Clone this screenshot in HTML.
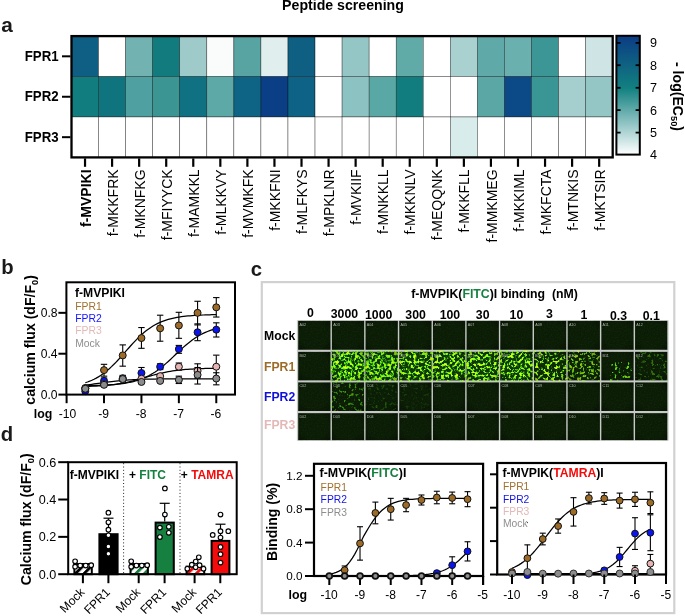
<!DOCTYPE html>
<html lang="en"><head><meta charset="utf-8"><title>Peptide screening</title>
<style>html,body{margin:0;padding:0;background:#fff}svg{display:block}</style></head><body>
<svg width="685" height="616" viewBox="0 0 685 616" font-family='"Liberation Sans", Arial, Helvetica, sans-serif'>
<rect x="0.00" y="0.00" width="685.00" height="616.00" fill="#fff"/>
<g id="panel-a">
<text x="343.00" y="9.90" font-size="14.15" font-weight="bold" text-anchor="middle" fill="#000">Peptide screening</text>
<text x="1.20" y="32.30" font-size="20.8" font-weight="bold" text-anchor="start" fill="#1a1a1a">a</text>
<rect x="71.50" y="36.10" width="27.06" height="40.43" fill="#0f5f85" stroke="#000" stroke-width="0.55" stroke-opacity="0.62"/>
<rect x="98.56" y="36.10" width="27.06" height="40.43" fill="#ffffff" stroke="#000" stroke-width="0.55" stroke-opacity="0.62"/>
<rect x="125.62" y="36.10" width="27.06" height="40.43" fill="#72b3b1" stroke="#000" stroke-width="0.55" stroke-opacity="0.62"/>
<rect x="152.68" y="36.10" width="27.06" height="40.43" fill="#117b7d" stroke="#000" stroke-width="0.55" stroke-opacity="0.62"/>
<rect x="179.74" y="36.10" width="27.06" height="40.43" fill="#9ecbca" stroke="#000" stroke-width="0.55" stroke-opacity="0.62"/>
<rect x="206.80" y="36.10" width="27.06" height="40.43" fill="#fafcfb" stroke="#000" stroke-width="0.55" stroke-opacity="0.62"/>
<rect x="233.86" y="36.10" width="27.06" height="40.43" fill="#57a4a3" stroke="#000" stroke-width="0.55" stroke-opacity="0.62"/>
<rect x="260.92" y="36.10" width="27.06" height="40.43" fill="#e0eeee" stroke="#000" stroke-width="0.55" stroke-opacity="0.62"/>
<rect x="287.98" y="36.10" width="27.06" height="40.43" fill="#0f5f82" stroke="#000" stroke-width="0.55" stroke-opacity="0.62"/>
<rect x="315.04" y="36.10" width="27.06" height="40.43" fill="#ffffff" stroke="#000" stroke-width="0.55" stroke-opacity="0.62"/>
<rect x="342.10" y="36.10" width="27.06" height="40.43" fill="#93c6c5" stroke="#000" stroke-width="0.55" stroke-opacity="0.62"/>
<rect x="369.16" y="36.10" width="27.06" height="40.43" fill="#ffffff" stroke="#000" stroke-width="0.55" stroke-opacity="0.62"/>
<rect x="396.22" y="36.10" width="27.06" height="40.43" fill="#60aaa8" stroke="#000" stroke-width="0.55" stroke-opacity="0.62"/>
<rect x="423.28" y="36.10" width="27.06" height="40.43" fill="#ffffff" stroke="#000" stroke-width="0.55" stroke-opacity="0.62"/>
<rect x="450.34" y="36.10" width="27.06" height="40.43" fill="#a8d1d0" stroke="#000" stroke-width="0.55" stroke-opacity="0.62"/>
<rect x="477.40" y="36.10" width="27.06" height="40.43" fill="#5faaa9" stroke="#000" stroke-width="0.55" stroke-opacity="0.62"/>
<rect x="504.46" y="36.10" width="27.06" height="40.43" fill="#6ab0af" stroke="#000" stroke-width="0.55" stroke-opacity="0.62"/>
<rect x="531.52" y="36.10" width="27.06" height="40.43" fill="#3b9695" stroke="#000" stroke-width="0.55" stroke-opacity="0.62"/>
<rect x="558.58" y="36.10" width="27.06" height="40.43" fill="#ffffff" stroke="#000" stroke-width="0.55" stroke-opacity="0.62"/>
<rect x="585.64" y="36.10" width="27.06" height="40.43" fill="#cfe5e5" stroke="#000" stroke-width="0.55" stroke-opacity="0.62"/>
<rect x="71.50" y="76.53" width="27.06" height="40.43" fill="#127d7e" stroke="#000" stroke-width="0.55" stroke-opacity="0.62"/>
<rect x="98.56" y="76.53" width="27.06" height="40.43" fill="#10747f" stroke="#000" stroke-width="0.55" stroke-opacity="0.62"/>
<rect x="125.62" y="76.53" width="27.06" height="40.43" fill="#4ea1a0" stroke="#000" stroke-width="0.55" stroke-opacity="0.62"/>
<rect x="152.68" y="76.53" width="27.06" height="40.43" fill="#3a9593" stroke="#000" stroke-width="0.55" stroke-opacity="0.62"/>
<rect x="179.74" y="76.53" width="27.06" height="40.43" fill="#0f7182" stroke="#000" stroke-width="0.55" stroke-opacity="0.62"/>
<rect x="206.80" y="76.53" width="27.06" height="40.43" fill="#5ca9a7" stroke="#000" stroke-width="0.55" stroke-opacity="0.62"/>
<rect x="233.86" y="76.53" width="27.06" height="40.43" fill="#0e6485" stroke="#000" stroke-width="0.55" stroke-opacity="0.62"/>
<rect x="260.92" y="76.53" width="27.06" height="40.43" fill="#0a3f85" stroke="#000" stroke-width="0.55" stroke-opacity="0.62"/>
<rect x="287.98" y="76.53" width="27.06" height="40.43" fill="#0e6286" stroke="#000" stroke-width="0.55" stroke-opacity="0.62"/>
<rect x="315.04" y="76.53" width="27.06" height="40.43" fill="#ffffff" stroke="#000" stroke-width="0.55" stroke-opacity="0.62"/>
<rect x="342.10" y="76.53" width="27.06" height="40.43" fill="#8cc3c2" stroke="#000" stroke-width="0.55" stroke-opacity="0.62"/>
<rect x="369.16" y="76.53" width="27.06" height="40.43" fill="#5aa8a6" stroke="#000" stroke-width="0.55" stroke-opacity="0.62"/>
<rect x="396.22" y="76.53" width="27.06" height="40.43" fill="#127d7e" stroke="#000" stroke-width="0.55" stroke-opacity="0.62"/>
<rect x="423.28" y="76.53" width="27.06" height="40.43" fill="#ffffff" stroke="#000" stroke-width="0.55" stroke-opacity="0.62"/>
<rect x="450.34" y="76.53" width="27.06" height="40.43" fill="#ffffff" stroke="#000" stroke-width="0.55" stroke-opacity="0.62"/>
<rect x="477.40" y="76.53" width="27.06" height="40.43" fill="#5aa7a6" stroke="#000" stroke-width="0.55" stroke-opacity="0.62"/>
<rect x="504.46" y="76.53" width="27.06" height="40.43" fill="#0b4a86" stroke="#000" stroke-width="0.55" stroke-opacity="0.62"/>
<rect x="531.52" y="76.53" width="27.06" height="40.43" fill="#3a9694" stroke="#000" stroke-width="0.55" stroke-opacity="0.62"/>
<rect x="558.58" y="76.53" width="27.06" height="40.43" fill="#a5cfce" stroke="#000" stroke-width="0.55" stroke-opacity="0.62"/>
<rect x="585.64" y="76.53" width="27.06" height="40.43" fill="#93c6c5" stroke="#000" stroke-width="0.55" stroke-opacity="0.62"/>
<rect x="71.50" y="116.97" width="27.06" height="40.43" fill="#ffffff" stroke="#000" stroke-width="0.55" stroke-opacity="0.62"/>
<rect x="98.56" y="116.97" width="27.06" height="40.43" fill="#ffffff" stroke="#000" stroke-width="0.55" stroke-opacity="0.62"/>
<rect x="125.62" y="116.97" width="27.06" height="40.43" fill="#ffffff" stroke="#000" stroke-width="0.55" stroke-opacity="0.62"/>
<rect x="152.68" y="116.97" width="27.06" height="40.43" fill="#ffffff" stroke="#000" stroke-width="0.55" stroke-opacity="0.62"/>
<rect x="179.74" y="116.97" width="27.06" height="40.43" fill="#ffffff" stroke="#000" stroke-width="0.55" stroke-opacity="0.62"/>
<rect x="206.80" y="116.97" width="27.06" height="40.43" fill="#ffffff" stroke="#000" stroke-width="0.55" stroke-opacity="0.62"/>
<rect x="233.86" y="116.97" width="27.06" height="40.43" fill="#ffffff" stroke="#000" stroke-width="0.55" stroke-opacity="0.62"/>
<rect x="260.92" y="116.97" width="27.06" height="40.43" fill="#ffffff" stroke="#000" stroke-width="0.55" stroke-opacity="0.62"/>
<rect x="287.98" y="116.97" width="27.06" height="40.43" fill="#ffffff" stroke="#000" stroke-width="0.55" stroke-opacity="0.62"/>
<rect x="315.04" y="116.97" width="27.06" height="40.43" fill="#ffffff" stroke="#000" stroke-width="0.55" stroke-opacity="0.62"/>
<rect x="342.10" y="116.97" width="27.06" height="40.43" fill="#ffffff" stroke="#000" stroke-width="0.55" stroke-opacity="0.62"/>
<rect x="369.16" y="116.97" width="27.06" height="40.43" fill="#ffffff" stroke="#000" stroke-width="0.55" stroke-opacity="0.62"/>
<rect x="396.22" y="116.97" width="27.06" height="40.43" fill="#ffffff" stroke="#000" stroke-width="0.55" stroke-opacity="0.62"/>
<rect x="423.28" y="116.97" width="27.06" height="40.43" fill="#ffffff" stroke="#000" stroke-width="0.55" stroke-opacity="0.62"/>
<rect x="450.34" y="116.97" width="27.06" height="40.43" fill="#d9ecec" stroke="#000" stroke-width="0.55" stroke-opacity="0.62"/>
<rect x="477.40" y="116.97" width="27.06" height="40.43" fill="#ffffff" stroke="#000" stroke-width="0.55" stroke-opacity="0.62"/>
<rect x="504.46" y="116.97" width="27.06" height="40.43" fill="#ffffff" stroke="#000" stroke-width="0.55" stroke-opacity="0.62"/>
<rect x="531.52" y="116.97" width="27.06" height="40.43" fill="#ffffff" stroke="#000" stroke-width="0.55" stroke-opacity="0.62"/>
<rect x="558.58" y="116.97" width="27.06" height="40.43" fill="#ffffff" stroke="#000" stroke-width="0.55" stroke-opacity="0.62"/>
<rect x="585.64" y="116.97" width="27.06" height="40.43" fill="#ffffff" stroke="#000" stroke-width="0.55" stroke-opacity="0.62"/>
<rect x="71.50" y="36.10" width="541.20" height="121.30" fill="none" stroke="#000" stroke-width="2.3"/>
<line x1="62.00" y1="56.32" x2="70.50" y2="56.32" stroke="#000" stroke-width="2"/>
<text x="58.60" y="60.92" font-size="14" font-weight="bold" text-anchor="end" fill="#000" textLength="33.9" lengthAdjust="spacingAndGlyphs">FPR1</text>
<line x1="62.00" y1="96.75" x2="70.50" y2="96.75" stroke="#000" stroke-width="2"/>
<text x="58.60" y="101.35" font-size="14" font-weight="bold" text-anchor="end" fill="#000" textLength="33.9" lengthAdjust="spacingAndGlyphs">FPR2</text>
<line x1="62.00" y1="137.18" x2="70.50" y2="137.18" stroke="#000" stroke-width="2"/>
<text x="58.60" y="141.78" font-size="14" font-weight="bold" text-anchor="end" fill="#000" textLength="33.9" lengthAdjust="spacingAndGlyphs">FPR3</text>
<line x1="85.03" y1="158.40" x2="85.03" y2="166.80" stroke="#000" stroke-width="2.2"/>
<text transform="translate(90.63,169.40) rotate(-90)" font-size="14.0" font-weight="bold" text-anchor="end" fill="#000">f-MVPIKI</text>
<line x1="112.09" y1="158.40" x2="112.09" y2="166.80" stroke="#000" stroke-width="2.2"/>
<text transform="translate(117.69,169.40) rotate(-90)" font-size="14.0" text-anchor="end" fill="#000">f-MKKFRK</text>
<line x1="139.15" y1="158.40" x2="139.15" y2="166.80" stroke="#000" stroke-width="2.2"/>
<text transform="translate(144.75,169.40) rotate(-90)" font-size="14.0" text-anchor="end" fill="#000">f-MKNFKG</text>
<line x1="166.21" y1="158.40" x2="166.21" y2="166.80" stroke="#000" stroke-width="2.2"/>
<text transform="translate(171.81,169.40) rotate(-90)" font-size="14.0" text-anchor="end" fill="#000">f-MFIYYCK</text>
<line x1="193.27" y1="158.40" x2="193.27" y2="166.80" stroke="#000" stroke-width="2.2"/>
<text transform="translate(198.87,169.40) rotate(-90)" font-size="14.0" text-anchor="end" fill="#000">f-MAMKKL</text>
<line x1="220.33" y1="158.40" x2="220.33" y2="166.80" stroke="#000" stroke-width="2.2"/>
<text transform="translate(225.93,169.40) rotate(-90)" font-size="14.0" text-anchor="end" fill="#000">f-MLKKVY</text>
<line x1="247.39" y1="158.40" x2="247.39" y2="166.80" stroke="#000" stroke-width="2.2"/>
<text transform="translate(252.99,169.40) rotate(-90)" font-size="14.0" text-anchor="end" fill="#000">f-MVMKFK</text>
<line x1="274.45" y1="158.40" x2="274.45" y2="166.80" stroke="#000" stroke-width="2.2"/>
<text transform="translate(280.05,169.40) rotate(-90)" font-size="14.0" text-anchor="end" fill="#000">f-MKKFNI</text>
<line x1="301.51" y1="158.40" x2="301.51" y2="166.80" stroke="#000" stroke-width="2.2"/>
<text transform="translate(307.11,169.40) rotate(-90)" font-size="14.0" text-anchor="end" fill="#000">f-MLFKYS</text>
<line x1="328.57" y1="158.40" x2="328.57" y2="166.80" stroke="#000" stroke-width="2.2"/>
<text transform="translate(334.17,169.40) rotate(-90)" font-size="14.0" text-anchor="end" fill="#000">f-MPKLNR</text>
<line x1="355.63" y1="158.40" x2="355.63" y2="166.80" stroke="#000" stroke-width="2.2"/>
<text transform="translate(361.23,169.40) rotate(-90)" font-size="14.0" text-anchor="end" fill="#000">f-MVKIIF</text>
<line x1="382.69" y1="158.40" x2="382.69" y2="166.80" stroke="#000" stroke-width="2.2"/>
<text transform="translate(388.29,169.40) rotate(-90)" font-size="14.0" text-anchor="end" fill="#000">f-MNKKLL</text>
<line x1="409.75" y1="158.40" x2="409.75" y2="166.80" stroke="#000" stroke-width="2.2"/>
<text transform="translate(415.35,169.40) rotate(-90)" font-size="14.0" text-anchor="end" fill="#000">f-MKKNLV</text>
<line x1="436.81" y1="158.40" x2="436.81" y2="166.80" stroke="#000" stroke-width="2.2"/>
<text transform="translate(442.41,169.40) rotate(-90)" font-size="14.0" text-anchor="end" fill="#000">f-MEQQNK</text>
<line x1="463.87" y1="158.40" x2="463.87" y2="166.80" stroke="#000" stroke-width="2.2"/>
<text transform="translate(469.47,169.40) rotate(-90)" font-size="14.0" text-anchor="end" fill="#000">f-MKKFLL</text>
<line x1="490.93" y1="158.40" x2="490.93" y2="166.80" stroke="#000" stroke-width="2.2"/>
<text transform="translate(496.53,169.40) rotate(-90)" font-size="14.0" text-anchor="end" fill="#000">f-MMKMEG</text>
<line x1="517.99" y1="158.40" x2="517.99" y2="166.80" stroke="#000" stroke-width="2.2"/>
<text transform="translate(523.59,169.40) rotate(-90)" font-size="14.0" text-anchor="end" fill="#000">f-MKKIML</text>
<line x1="545.05" y1="158.40" x2="545.05" y2="166.80" stroke="#000" stroke-width="2.2"/>
<text transform="translate(550.65,169.40) rotate(-90)" font-size="14.0" text-anchor="end" fill="#000">f-MKFCTA</text>
<line x1="572.11" y1="158.40" x2="572.11" y2="166.80" stroke="#000" stroke-width="2.2"/>
<text transform="translate(577.71,169.40) rotate(-90)" font-size="14.0" text-anchor="end" fill="#000">f-MTNKIS</text>
<line x1="599.17" y1="158.40" x2="599.17" y2="166.80" stroke="#000" stroke-width="2.2"/>
<text transform="translate(604.77,169.40) rotate(-90)" font-size="14.0" text-anchor="end" fill="#000">f-MKTSIR</text>
<defs><linearGradient id="cbar" x1="0" y1="0" x2="0" y2="1"><stop offset="0" stop-color="#0b3c84"/><stop offset="0.44" stop-color="#128080"/><stop offset="1" stop-color="#ffffff"/></linearGradient></defs>
<rect x="616.40" y="35.80" width="23.40" height="118.80" fill="url(#cbar)" stroke="#000" stroke-width="2"/>
<line x1="617.00" y1="42.90" x2="620.60" y2="42.90" stroke="#000" stroke-width="1.8"/>
<line x1="635.60" y1="42.90" x2="639.00" y2="42.90" stroke="#000" stroke-width="1.8"/>
<text x="650.00" y="47.40" font-size="12.6" text-anchor="start" fill="#000">9</text>
<line x1="617.00" y1="65.20" x2="620.60" y2="65.20" stroke="#000" stroke-width="1.8"/>
<line x1="635.60" y1="65.20" x2="639.00" y2="65.20" stroke="#000" stroke-width="1.8"/>
<text x="650.00" y="69.70" font-size="12.6" text-anchor="start" fill="#000">8</text>
<line x1="617.00" y1="87.80" x2="620.60" y2="87.80" stroke="#000" stroke-width="1.8"/>
<line x1="635.60" y1="87.80" x2="639.00" y2="87.80" stroke="#000" stroke-width="1.8"/>
<text x="650.00" y="92.30" font-size="12.6" text-anchor="start" fill="#000">7</text>
<line x1="617.00" y1="110.10" x2="620.60" y2="110.10" stroke="#000" stroke-width="1.8"/>
<line x1="635.60" y1="110.10" x2="639.00" y2="110.10" stroke="#000" stroke-width="1.8"/>
<text x="650.00" y="114.60" font-size="12.6" text-anchor="start" fill="#000">6</text>
<line x1="617.00" y1="132.60" x2="620.60" y2="132.60" stroke="#000" stroke-width="1.8"/>
<line x1="635.60" y1="132.60" x2="639.00" y2="132.60" stroke="#000" stroke-width="1.8"/>
<text x="650.00" y="137.10" font-size="12.6" text-anchor="start" fill="#000">5</text>
<text x="650.00" y="159.40" font-size="12.6" text-anchor="start" fill="#000">4</text>
<text transform="translate(673.40,62.00) rotate(90)" font-size="14.1" font-weight="bold" text-anchor="start" fill="#000">- log(EC<tspan font-size="9.3" dy="2.8">50</tspan><tspan dy="-2.8">)</tspan></text>
</g>
<g id="panel-c">
<text x="250.80" y="276.00" font-size="20.3" font-weight="bold" text-anchor="start" fill="#1a1a1a">c</text>
<rect x="261.80" y="282.10" width="412.50" height="331.00" fill="#fff" stroke="#d1d1d1" stroke-width="2.2"/>
<text x="411.20" y="298.20" font-size="12.3" font-weight="bold" text-anchor="start" fill="#000" xml:space="preserve">f-MVPIK(<tspan fill="#15803f">FITC</tspan>)I binding&#160;&#160;(nM)</text>
<defs>
<filter id="sp1" x="0" y="0" width="1" height="1" color-interpolation-filters="sRGB"><feTurbulence type="fractalNoise" baseFrequency="0.36" numOctaves="2" seed="3"/><feColorMatrix type="matrix" values="2.5 0 0 0 -1.04  2.6 0 0 0 -0.58  0 0 0 0 0.07  7 0 0 0 -2.92"/><feGaussianBlur stdDeviation="0.3"/></filter>
<filter id="sp2" x="0" y="0" width="1" height="1" color-interpolation-filters="sRGB"><feTurbulence type="fractalNoise" baseFrequency="0.36" numOctaves="2" seed="11"/><feColorMatrix type="matrix" values="2.5 0 0 0 -1.04  2.6 0 0 0 -0.58  0 0 0 0 0.07  7 0 0 0 -3.2"/><feGaussianBlur stdDeviation="0.3"/></filter>
<filter id="sp3" x="0" y="0" width="1" height="1" color-interpolation-filters="sRGB"><feTurbulence type="fractalNoise" baseFrequency="0.36" numOctaves="2" seed="23"/><feColorMatrix type="matrix" values="2.5 0 0 0 -1.04  2.6 0 0 0 -0.58  0 0 0 0 0.07  7 0 0 0 -3.5"/><feGaussianBlur stdDeviation="0.3"/></filter>
<filter id="sp4" x="0" y="0" width="1" height="1" color-interpolation-filters="sRGB"><feTurbulence type="fractalNoise" baseFrequency="0.33" numOctaves="2" seed="5"/><feColorMatrix type="matrix" values="2.0 0 0 0 -0.95  2.6 0 0 0 -0.66  0 0 0 0 0.07  7 0 0 0 -3.95"/><feGaussianBlur stdDeviation="0.3"/></filter>
<filter id="sp5" x="0" y="0" width="1" height="1" color-interpolation-filters="sRGB"><feTurbulence type="fractalNoise" baseFrequency="0.33" numOctaves="2" seed="8"/><feColorMatrix type="matrix" values="1.5 0 0 0 -0.7  2.6 0 0 0 -0.66  0 0 0 0 0.07  5 0 0 0 -2.85"/><feGaussianBlur stdDeviation="0.3"/></filter>
<filter id="bg" x="0" y="0" width="1" height="1" color-interpolation-filters="sRGB"><feTurbulence type="fractalNoise" baseFrequency="0.7" numOctaves="1" seed="2"/><feColorMatrix type="matrix" values="0 0 0 0 0.2  0 0 0 0 0.5  0 0 0 0 0.1  1.2 0 0 0 -0.45"/></filter>
<radialGradient id="vig" cx="0.5" cy="0.5" r="0.75"><stop offset="0.55" stop-color="#000" stop-opacity="0"/><stop offset="1" stop-color="#000" stop-opacity="0.45"/></radialGradient>
</defs>
<rect x="296.90" y="320.30" width="371.70" height="120.40" fill="#c6c9c6"/>
<rect x="298.25" y="320.90" width="32.18" height="28.80" fill="#0b1b06"/>
<rect x="298.25" y="320.90" width="32.18" height="28.80" fill="#2a5a14" filter="url(#bg)" opacity="0.22"/>
<rect x="298.25" y="320.90" width="32.18" height="28.80" fill="url(#vig)"/>
<text x="299.45" y="325.50" font-size="3.7" text-anchor="start" fill="#d5dcd2" opacity="0.8">A02</text>
<rect x="331.93" y="320.90" width="32.18" height="28.80" fill="#0b1b06"/>
<rect x="331.93" y="320.90" width="32.18" height="28.80" fill="#2a5a14" filter="url(#bg)" opacity="0.22"/>
<rect x="331.93" y="320.90" width="32.18" height="28.80" fill="url(#vig)"/>
<text x="333.13" y="325.50" font-size="3.7" text-anchor="start" fill="#d5dcd2" opacity="0.8">A03</text>
<rect x="365.61" y="320.90" width="32.18" height="28.80" fill="#0b1b06"/>
<rect x="365.61" y="320.90" width="32.18" height="28.80" fill="#2a5a14" filter="url(#bg)" opacity="0.22"/>
<rect x="365.61" y="320.90" width="32.18" height="28.80" fill="url(#vig)"/>
<text x="366.81" y="325.50" font-size="3.7" text-anchor="start" fill="#d5dcd2" opacity="0.8">A04</text>
<rect x="399.30" y="320.90" width="32.18" height="28.80" fill="#0b1b06"/>
<rect x="399.30" y="320.90" width="32.18" height="28.80" fill="#2a5a14" filter="url(#bg)" opacity="0.22"/>
<rect x="399.30" y="320.90" width="32.18" height="28.80" fill="url(#vig)"/>
<text x="400.50" y="325.50" font-size="3.7" text-anchor="start" fill="#d5dcd2" opacity="0.8">A05</text>
<rect x="432.98" y="320.90" width="32.18" height="28.80" fill="#0b1b06"/>
<rect x="432.98" y="320.90" width="32.18" height="28.80" fill="#2a5a14" filter="url(#bg)" opacity="0.22"/>
<rect x="432.98" y="320.90" width="32.18" height="28.80" fill="url(#vig)"/>
<text x="434.18" y="325.50" font-size="3.7" text-anchor="start" fill="#d5dcd2" opacity="0.8">A06</text>
<rect x="466.66" y="320.90" width="32.18" height="28.80" fill="#0b1b06"/>
<rect x="466.66" y="320.90" width="32.18" height="28.80" fill="#2a5a14" filter="url(#bg)" opacity="0.22"/>
<rect x="466.66" y="320.90" width="32.18" height="28.80" fill="url(#vig)"/>
<text x="467.86" y="325.50" font-size="3.7" text-anchor="start" fill="#d5dcd2" opacity="0.8">A07</text>
<rect x="500.34" y="320.90" width="32.18" height="28.80" fill="#0b1b06"/>
<rect x="500.34" y="320.90" width="32.18" height="28.80" fill="#2a5a14" filter="url(#bg)" opacity="0.22"/>
<rect x="500.34" y="320.90" width="32.18" height="28.80" fill="url(#vig)"/>
<text x="501.54" y="325.50" font-size="3.7" text-anchor="start" fill="#d5dcd2" opacity="0.8">A08</text>
<rect x="534.02" y="320.90" width="32.18" height="28.80" fill="#0b1b06"/>
<rect x="534.02" y="320.90" width="32.18" height="28.80" fill="#2a5a14" filter="url(#bg)" opacity="0.22"/>
<rect x="534.02" y="320.90" width="32.18" height="28.80" fill="url(#vig)"/>
<text x="535.22" y="325.50" font-size="3.7" text-anchor="start" fill="#d5dcd2" opacity="0.8">A09</text>
<rect x="567.70" y="320.90" width="32.18" height="28.80" fill="#0b1b06"/>
<rect x="567.70" y="320.90" width="32.18" height="28.80" fill="#2a5a14" filter="url(#bg)" opacity="0.22"/>
<rect x="567.70" y="320.90" width="32.18" height="28.80" fill="url(#vig)"/>
<text x="568.90" y="325.50" font-size="3.7" text-anchor="start" fill="#d5dcd2" opacity="0.8">A10</text>
<rect x="601.39" y="320.90" width="32.18" height="28.80" fill="#0b1b06"/>
<rect x="601.39" y="320.90" width="32.18" height="28.80" fill="#2a5a14" filter="url(#bg)" opacity="0.22"/>
<rect x="601.39" y="320.90" width="32.18" height="28.80" fill="url(#vig)"/>
<text x="602.59" y="325.50" font-size="3.7" text-anchor="start" fill="#d5dcd2" opacity="0.8">A11</text>
<rect x="635.07" y="320.90" width="32.18" height="28.80" fill="#0b1b06"/>
<rect x="635.07" y="320.90" width="32.18" height="28.80" fill="#2a5a14" filter="url(#bg)" opacity="0.22"/>
<rect x="635.07" y="320.90" width="32.18" height="28.80" fill="url(#vig)"/>
<text x="636.27" y="325.50" font-size="3.7" text-anchor="start" fill="#d5dcd2" opacity="0.8">A12</text>
<rect x="298.25" y="351.90" width="32.18" height="28.40" fill="#0b1b06"/>
<rect x="298.25" y="351.90" width="32.18" height="28.40" fill="#2a5a14" filter="url(#bg)" opacity="0.22"/>
<rect x="298.25" y="351.90" width="32.18" height="28.40" fill="url(#vig)"/>
<text x="299.45" y="356.50" font-size="3.7" text-anchor="start" fill="#d5dcd2" opacity="0.8">B02</text>
<rect x="331.93" y="351.90" width="32.18" height="28.40" fill="#0b1b06"/>
<rect x="331.93" y="351.90" width="32.18" height="28.40" fill="#2a5a14" filter="url(#bg)" opacity="0.22"/>
<rect x="331.93" y="351.90" width="32.18" height="28.40" fill="#1d6a0a" opacity="0.32"/>
<rect x="331.93" y="351.90" width="32.18" height="28.40" fill="#3c0" filter="url(#sp1)" opacity="1.0"/>
<rect x="331.93" y="351.90" width="32.18" height="28.40" fill="url(#vig)"/>
<text x="333.13" y="356.50" font-size="3.7" text-anchor="start" fill="#d5dcd2" opacity="0.8">B03</text>
<rect x="365.61" y="351.90" width="32.18" height="28.40" fill="#0b1b06"/>
<rect x="365.61" y="351.90" width="32.18" height="28.40" fill="#2a5a14" filter="url(#bg)" opacity="0.22"/>
<rect x="365.61" y="351.90" width="32.18" height="28.40" fill="#1d6a0a" opacity="0.30"/>
<rect x="365.61" y="351.90" width="32.18" height="28.40" fill="#3c0" filter="url(#sp1)" opacity="0.95"/>
<rect x="365.61" y="351.90" width="32.18" height="28.40" fill="url(#vig)"/>
<text x="366.81" y="356.50" font-size="3.7" text-anchor="start" fill="#d5dcd2" opacity="0.8">B04</text>
<rect x="399.30" y="351.90" width="32.18" height="28.40" fill="#0b1b06"/>
<rect x="399.30" y="351.90" width="32.18" height="28.40" fill="#2a5a14" filter="url(#bg)" opacity="0.22"/>
<rect x="399.30" y="351.90" width="32.18" height="28.40" fill="#1d6a0a" opacity="0.32"/>
<rect x="399.30" y="351.90" width="32.18" height="28.40" fill="#3c0" filter="url(#sp2)" opacity="1.0"/>
<rect x="399.30" y="351.90" width="32.18" height="28.40" fill="url(#vig)"/>
<text x="400.50" y="356.50" font-size="3.7" text-anchor="start" fill="#d5dcd2" opacity="0.8">B05</text>
<rect x="432.98" y="351.90" width="32.18" height="28.40" fill="#0b1b06"/>
<rect x="432.98" y="351.90" width="32.18" height="28.40" fill="#2a5a14" filter="url(#bg)" opacity="0.22"/>
<rect x="432.98" y="351.90" width="32.18" height="28.40" fill="#1d6a0a" opacity="0.32"/>
<rect x="432.98" y="351.90" width="32.18" height="28.40" fill="#3c0" filter="url(#sp2)" opacity="1.0"/>
<rect x="432.98" y="351.90" width="32.18" height="28.40" fill="url(#vig)"/>
<text x="434.18" y="356.50" font-size="3.7" text-anchor="start" fill="#d5dcd2" opacity="0.8">B06</text>
<rect x="466.66" y="351.90" width="32.18" height="28.40" fill="#0b1b06"/>
<rect x="466.66" y="351.90" width="32.18" height="28.40" fill="#2a5a14" filter="url(#bg)" opacity="0.22"/>
<rect x="466.66" y="351.90" width="32.18" height="28.40" fill="#1d6a0a" opacity="0.32"/>
<rect x="466.66" y="351.90" width="32.18" height="28.40" fill="#3c0" filter="url(#sp2)" opacity="1.0"/>
<rect x="466.66" y="351.90" width="32.18" height="28.40" fill="url(#vig)"/>
<text x="467.86" y="356.50" font-size="3.7" text-anchor="start" fill="#d5dcd2" opacity="0.8">B07</text>
<rect x="500.34" y="351.90" width="32.18" height="28.40" fill="#0b1b06"/>
<rect x="500.34" y="351.90" width="32.18" height="28.40" fill="#2a5a14" filter="url(#bg)" opacity="0.22"/>
<rect x="500.34" y="351.90" width="32.18" height="28.40" fill="#1d6a0a" opacity="0.32"/>
<rect x="500.34" y="351.90" width="32.18" height="28.40" fill="#3c0" filter="url(#sp2)" opacity="1.0"/>
<rect x="500.34" y="351.90" width="32.18" height="28.40" fill="url(#vig)"/>
<text x="501.54" y="356.50" font-size="3.7" text-anchor="start" fill="#d5dcd2" opacity="0.8">B08</text>
<rect x="534.02" y="351.90" width="32.18" height="28.40" fill="#0b1b06"/>
<rect x="534.02" y="351.90" width="32.18" height="28.40" fill="#2a5a14" filter="url(#bg)" opacity="0.22"/>
<rect x="534.02" y="351.90" width="32.18" height="28.40" fill="#1d6a0a" opacity="0.15"/>
<rect x="534.02" y="351.90" width="32.18" height="28.40" fill="#3c0" filter="url(#sp3)" opacity="0.95"/>
<rect x="534.02" y="351.90" width="32.18" height="28.40" fill="url(#vig)"/>
<text x="535.22" y="356.50" font-size="3.7" text-anchor="start" fill="#d5dcd2" opacity="0.8">B09</text>
<rect x="567.70" y="351.90" width="32.18" height="28.40" fill="#0b1b06"/>
<rect x="567.70" y="351.90" width="32.18" height="28.40" fill="#2a5a14" filter="url(#bg)" opacity="0.22"/>
<rect x="567.70" y="351.90" width="32.18" height="28.40" fill="#1d6a0a" opacity="0.06"/>
<rect x="567.70" y="351.90" width="32.18" height="28.40" fill="#3c0" filter="url(#sp3)" opacity="0.7"/>
<rect x="567.70" y="351.90" width="32.18" height="28.40" fill="url(#vig)"/>
<text x="568.90" y="356.50" font-size="3.7" text-anchor="start" fill="#d5dcd2" opacity="0.8">B10</text>
<rect x="601.39" y="351.90" width="32.18" height="28.40" fill="#0b1b06"/>
<rect x="601.39" y="351.90" width="32.18" height="28.40" fill="#2a5a14" filter="url(#bg)" opacity="0.22"/>
<rect x="610.39" y="362.90" width="21.18" height="17.40" fill="#3c0" filter="url(#sp4)" opacity="0.8"/>
<rect x="601.39" y="351.90" width="32.18" height="28.40" fill="url(#vig)"/>
<text x="602.59" y="356.50" font-size="3.7" text-anchor="start" fill="#d5dcd2" opacity="0.8">B11</text>
<rect x="635.07" y="351.90" width="32.18" height="28.40" fill="#0b1b06"/>
<rect x="635.07" y="351.90" width="32.18" height="28.40" fill="#2a5a14" filter="url(#bg)" opacity="0.22"/>
<rect x="635.07" y="351.90" width="32.18" height="28.40" fill="#3c0" filter="url(#sp4)" opacity="0.35"/>
<rect x="635.07" y="351.90" width="32.18" height="28.40" fill="url(#vig)"/>
<text x="636.27" y="356.50" font-size="3.7" text-anchor="start" fill="#d5dcd2" opacity="0.8">B12</text>
<rect x="298.25" y="382.50" width="32.18" height="28.50" fill="#0b1b06"/>
<rect x="298.25" y="382.50" width="32.18" height="28.50" fill="#2a5a14" filter="url(#bg)" opacity="0.22"/>
<rect x="298.25" y="382.50" width="32.18" height="28.50" fill="url(#vig)"/>
<text x="299.45" y="387.10" font-size="3.7" text-anchor="start" fill="#d5dcd2" opacity="0.8">C02</text>
<rect x="331.93" y="382.50" width="32.18" height="28.50" fill="#0b1b06"/>
<rect x="331.93" y="382.50" width="32.18" height="28.50" fill="#2a5a14" filter="url(#bg)" opacity="0.22"/>
<rect x="331.93" y="382.50" width="32.18" height="28.50" fill="#3c0" filter="url(#sp4)" opacity="0.5"/>
<rect x="331.93" y="382.50" width="32.18" height="28.50" fill="url(#vig)"/>
<text x="333.13" y="387.10" font-size="3.7" text-anchor="start" fill="#d5dcd2" opacity="0.8">C03</text>
<rect x="365.61" y="382.50" width="32.18" height="28.50" fill="#0b1b06"/>
<rect x="365.61" y="382.50" width="32.18" height="28.50" fill="#2a5a14" filter="url(#bg)" opacity="0.22"/>
<rect x="365.61" y="382.50" width="32.18" height="28.50" fill="#3c0" filter="url(#sp5)" opacity="0.25"/>
<rect x="365.61" y="382.50" width="32.18" height="28.50" fill="url(#vig)"/>
<text x="366.81" y="387.10" font-size="3.7" text-anchor="start" fill="#d5dcd2" opacity="0.8">C04</text>
<rect x="399.30" y="382.50" width="32.18" height="28.50" fill="#0b1b06"/>
<rect x="399.30" y="382.50" width="32.18" height="28.50" fill="#2a5a14" filter="url(#bg)" opacity="0.22"/>
<rect x="399.30" y="382.50" width="32.18" height="28.50" fill="#3c0" filter="url(#sp5)" opacity="0.12"/>
<rect x="399.30" y="382.50" width="32.18" height="28.50" fill="url(#vig)"/>
<text x="400.50" y="387.10" font-size="3.7" text-anchor="start" fill="#d5dcd2" opacity="0.8">C05</text>
<rect x="432.98" y="382.50" width="32.18" height="28.50" fill="#0b1b06"/>
<rect x="432.98" y="382.50" width="32.18" height="28.50" fill="#2a5a14" filter="url(#bg)" opacity="0.22"/>
<rect x="432.98" y="382.50" width="32.18" height="28.50" fill="url(#vig)"/>
<text x="434.18" y="387.10" font-size="3.7" text-anchor="start" fill="#d5dcd2" opacity="0.8">C06</text>
<rect x="466.66" y="382.50" width="32.18" height="28.50" fill="#0b1b06"/>
<rect x="466.66" y="382.50" width="32.18" height="28.50" fill="#2a5a14" filter="url(#bg)" opacity="0.22"/>
<rect x="466.66" y="382.50" width="32.18" height="28.50" fill="url(#vig)"/>
<text x="467.86" y="387.10" font-size="3.7" text-anchor="start" fill="#d5dcd2" opacity="0.8">C07</text>
<rect x="500.34" y="382.50" width="32.18" height="28.50" fill="#0b1b06"/>
<rect x="500.34" y="382.50" width="32.18" height="28.50" fill="#2a5a14" filter="url(#bg)" opacity="0.22"/>
<rect x="500.34" y="382.50" width="32.18" height="28.50" fill="url(#vig)"/>
<text x="501.54" y="387.10" font-size="3.7" text-anchor="start" fill="#d5dcd2" opacity="0.8">C08</text>
<rect x="534.02" y="382.50" width="32.18" height="28.50" fill="#0b1b06"/>
<rect x="534.02" y="382.50" width="32.18" height="28.50" fill="#2a5a14" filter="url(#bg)" opacity="0.22"/>
<rect x="534.02" y="382.50" width="32.18" height="28.50" fill="url(#vig)"/>
<text x="535.22" y="387.10" font-size="3.7" text-anchor="start" fill="#d5dcd2" opacity="0.8">C09</text>
<rect x="567.70" y="382.50" width="32.18" height="28.50" fill="#0b1b06"/>
<rect x="567.70" y="382.50" width="32.18" height="28.50" fill="#2a5a14" filter="url(#bg)" opacity="0.22"/>
<rect x="567.70" y="382.50" width="32.18" height="28.50" fill="url(#vig)"/>
<text x="568.90" y="387.10" font-size="3.7" text-anchor="start" fill="#d5dcd2" opacity="0.8">C10</text>
<rect x="601.39" y="382.50" width="32.18" height="28.50" fill="#0b1b06"/>
<rect x="601.39" y="382.50" width="32.18" height="28.50" fill="#2a5a14" filter="url(#bg)" opacity="0.22"/>
<rect x="601.39" y="382.50" width="32.18" height="28.50" fill="url(#vig)"/>
<text x="602.59" y="387.10" font-size="3.7" text-anchor="start" fill="#d5dcd2" opacity="0.8">C11</text>
<rect x="635.07" y="382.50" width="32.18" height="28.50" fill="#0b1b06"/>
<rect x="635.07" y="382.50" width="32.18" height="28.50" fill="#2a5a14" filter="url(#bg)" opacity="0.22"/>
<rect x="635.07" y="382.50" width="32.18" height="28.50" fill="url(#vig)"/>
<text x="636.27" y="387.10" font-size="3.7" text-anchor="start" fill="#d5dcd2" opacity="0.8">C12</text>
<rect x="298.25" y="413.20" width="32.18" height="26.90" fill="#0b1b06"/>
<rect x="298.25" y="413.20" width="32.18" height="26.90" fill="#2a5a14" filter="url(#bg)" opacity="0.22"/>
<rect x="298.25" y="413.20" width="32.18" height="26.90" fill="url(#vig)"/>
<text x="299.45" y="417.80" font-size="3.7" text-anchor="start" fill="#d5dcd2" opacity="0.8">D02</text>
<rect x="331.93" y="413.20" width="32.18" height="26.90" fill="#0b1b06"/>
<rect x="331.93" y="413.20" width="32.18" height="26.90" fill="#2a5a14" filter="url(#bg)" opacity="0.22"/>
<rect x="331.93" y="413.20" width="32.18" height="26.90" fill="url(#vig)"/>
<text x="333.13" y="417.80" font-size="3.7" text-anchor="start" fill="#d5dcd2" opacity="0.8">D03</text>
<rect x="365.61" y="413.20" width="32.18" height="26.90" fill="#0b1b06"/>
<rect x="365.61" y="413.20" width="32.18" height="26.90" fill="#2a5a14" filter="url(#bg)" opacity="0.22"/>
<rect x="365.61" y="413.20" width="32.18" height="26.90" fill="url(#vig)"/>
<text x="366.81" y="417.80" font-size="3.7" text-anchor="start" fill="#d5dcd2" opacity="0.8">D04</text>
<rect x="399.30" y="413.20" width="32.18" height="26.90" fill="#0b1b06"/>
<rect x="399.30" y="413.20" width="32.18" height="26.90" fill="#2a5a14" filter="url(#bg)" opacity="0.22"/>
<rect x="399.30" y="413.20" width="32.18" height="26.90" fill="url(#vig)"/>
<text x="400.50" y="417.80" font-size="3.7" text-anchor="start" fill="#d5dcd2" opacity="0.8">D05</text>
<rect x="432.98" y="413.20" width="32.18" height="26.90" fill="#0b1b06"/>
<rect x="432.98" y="413.20" width="32.18" height="26.90" fill="#2a5a14" filter="url(#bg)" opacity="0.22"/>
<rect x="432.98" y="413.20" width="32.18" height="26.90" fill="url(#vig)"/>
<text x="434.18" y="417.80" font-size="3.7" text-anchor="start" fill="#d5dcd2" opacity="0.8">D06</text>
<rect x="466.66" y="413.20" width="32.18" height="26.90" fill="#0b1b06"/>
<rect x="466.66" y="413.20" width="32.18" height="26.90" fill="#2a5a14" filter="url(#bg)" opacity="0.22"/>
<rect x="466.66" y="413.20" width="32.18" height="26.90" fill="url(#vig)"/>
<text x="467.86" y="417.80" font-size="3.7" text-anchor="start" fill="#d5dcd2" opacity="0.8">D07</text>
<rect x="500.34" y="413.20" width="32.18" height="26.90" fill="#0b1b06"/>
<rect x="500.34" y="413.20" width="32.18" height="26.90" fill="#2a5a14" filter="url(#bg)" opacity="0.22"/>
<rect x="500.34" y="413.20" width="32.18" height="26.90" fill="url(#vig)"/>
<text x="501.54" y="417.80" font-size="3.7" text-anchor="start" fill="#d5dcd2" opacity="0.8">D08</text>
<rect x="534.02" y="413.20" width="32.18" height="26.90" fill="#0b1b06"/>
<rect x="534.02" y="413.20" width="32.18" height="26.90" fill="#2a5a14" filter="url(#bg)" opacity="0.22"/>
<rect x="534.02" y="413.20" width="32.18" height="26.90" fill="url(#vig)"/>
<text x="535.22" y="417.80" font-size="3.7" text-anchor="start" fill="#d5dcd2" opacity="0.8">D09</text>
<rect x="567.70" y="413.20" width="32.18" height="26.90" fill="#0b1b06"/>
<rect x="567.70" y="413.20" width="32.18" height="26.90" fill="#2a5a14" filter="url(#bg)" opacity="0.22"/>
<rect x="567.70" y="413.20" width="32.18" height="26.90" fill="url(#vig)"/>
<text x="568.90" y="417.80" font-size="3.7" text-anchor="start" fill="#d5dcd2" opacity="0.8">D10</text>
<rect x="601.39" y="413.20" width="32.18" height="26.90" fill="#0b1b06"/>
<rect x="601.39" y="413.20" width="32.18" height="26.90" fill="#2a5a14" filter="url(#bg)" opacity="0.22"/>
<rect x="601.39" y="413.20" width="32.18" height="26.90" fill="url(#vig)"/>
<text x="602.59" y="417.80" font-size="3.7" text-anchor="start" fill="#d5dcd2" opacity="0.8">D11</text>
<rect x="635.07" y="413.20" width="32.18" height="26.90" fill="#0b1b06"/>
<rect x="635.07" y="413.20" width="32.18" height="26.90" fill="#2a5a14" filter="url(#bg)" opacity="0.22"/>
<rect x="635.07" y="413.20" width="32.18" height="26.90" fill="url(#vig)"/>
<text x="636.27" y="417.80" font-size="3.7" text-anchor="start" fill="#d5dcd2" opacity="0.8">D12</text>
<text x="310.30" y="316.60" font-size="12.3" font-weight="bold" text-anchor="middle" fill="#000">0</text>
<text x="344.40" y="318.30" font-size="12.3" font-weight="bold" text-anchor="middle" fill="#000">3000</text>
<text x="378.70" y="318.80" font-size="12.3" font-weight="bold" text-anchor="middle" fill="#000">1000</text>
<text x="415.60" y="318.60" font-size="12.3" font-weight="bold" text-anchor="middle" fill="#000">300</text>
<text x="449.90" y="318.80" font-size="12.3" font-weight="bold" text-anchor="middle" fill="#000">100</text>
<text x="482.70" y="318.90" font-size="12.3" font-weight="bold" text-anchor="middle" fill="#000">30</text>
<text x="516.40" y="318.90" font-size="12.3" font-weight="bold" text-anchor="middle" fill="#000">10</text>
<text x="549.50" y="317.60" font-size="12.3" font-weight="bold" text-anchor="middle" fill="#000">3</text>
<text x="583.80" y="318.90" font-size="12.3" font-weight="bold" text-anchor="middle" fill="#000">1</text>
<text x="618.50" y="319.50" font-size="12.3" font-weight="bold" text-anchor="middle" fill="#000">0.3</text>
<text x="651.30" y="319.70" font-size="12.3" font-weight="bold" text-anchor="middle" fill="#000">0.1</text>
<text x="295.20" y="340.20" font-size="12.2" font-weight="bold" text-anchor="end" fill="#000">Mock</text>
<text x="295.20" y="371.30" font-size="12.2" font-weight="bold" text-anchor="end" fill="#9c6b28">FPR1</text>
<text x="295.20" y="400.90" font-size="12.2" font-weight="bold" text-anchor="end" fill="#1010d8">FPR2</text>
<text x="295.20" y="429.10" font-size="12.2" font-weight="bold" text-anchor="end" fill="#e3b9b7">FPR3</text>
<polyline points="329.30,574.30 331.60,573.81 333.91,573.19 336.21,572.39 338.52,571.39 340.82,570.13 343.12,568.56 345.43,566.63 347.73,564.28 350.04,561.46 352.34,558.15 354.64,554.34 356.95,550.07 359.25,545.43 361.56,540.52 363.86,535.83 366.16,531.84 368.47,527.96 370.77,524.27 373.08,520.82 375.38,517.66 377.68,514.81 379.99,512.28 382.29,510.07 384.60,508.15 386.90,506.51 389.20,505.11 391.51,503.94 393.81,502.95 396.12,502.13 398.42,501.45 400.72,500.89 403.03,500.43 405.33,500.05 407.64,499.73 409.94,499.48 412.24,499.27 414.55,499.10 416.85,498.96 419.16,498.84 421.46,498.75 423.76,498.67 426.07,498.61 428.37,498.56 430.68,498.52 432.98,498.49 435.28,498.46 437.59,498.44 439.89,498.42 442.20,498.41 444.50,498.40 446.80,498.39 449.11,498.38 451.41,498.37 453.72,498.37 456.02,498.36 458.32,498.36 460.63,498.36 462.93,498.35 465.24,498.35 467.54,498.35" fill="none" stroke="#000" stroke-width="1.25"/>
<polyline points="390.74,575.92 392.02,575.91 393.30,575.90 394.58,575.89 395.86,575.88 397.14,575.86 398.42,575.85 399.70,575.83 400.98,575.81 402.26,575.79 403.54,575.77 404.82,575.74 406.10,575.71 407.38,575.68 408.66,575.65 409.94,575.61 411.22,575.56 412.50,575.52 413.78,575.46 415.06,575.40 416.34,575.34 417.62,575.27 418.90,575.19 420.18,575.10 421.46,575.00 422.74,574.89 424.02,574.77 425.30,574.64 426.58,574.49 427.86,574.33 429.14,574.15 430.42,573.95 431.70,573.73 432.98,573.49 434.26,573.22 435.54,572.93 436.82,572.61 438.10,572.26 439.38,571.88 440.66,571.46 441.94,571.01 443.22,570.51 444.50,569.97 445.78,569.38 447.06,568.75 448.34,568.07 449.62,567.33 450.90,566.55 452.18,565.70 453.46,564.80 454.74,563.85 456.02,562.84 457.30,561.78 458.58,560.66 459.86,559.50 461.14,558.29 462.42,557.04 463.70,555.76 464.98,554.44 466.26,553.11 467.54,551.75" fill="none" stroke="#000" stroke-width="1.25"/>
<line x1="329.30" y1="576.00" x2="467.54" y2="576.00" stroke="#000" stroke-width="1.2"/>
<line x1="344.66" y1="565.98" x2="344.66" y2="574.33" stroke="#000" stroke-width="1.1"/>
<line x1="341.66" y1="565.98" x2="347.66" y2="565.98" stroke="#000" stroke-width="1.1"/>
<line x1="341.66" y1="574.33" x2="347.66" y2="574.33" stroke="#000" stroke-width="1.1"/>
<line x1="360.02" y1="526.74" x2="360.02" y2="560.13" stroke="#000" stroke-width="1.1"/>
<line x1="357.02" y1="526.74" x2="363.02" y2="526.74" stroke="#000" stroke-width="1.1"/>
<line x1="357.02" y1="560.13" x2="363.02" y2="560.13" stroke="#000" stroke-width="1.1"/>
<line x1="375.38" y1="502.10" x2="375.38" y2="523.81" stroke="#000" stroke-width="1.1"/>
<line x1="372.38" y1="502.10" x2="378.38" y2="502.10" stroke="#000" stroke-width="1.1"/>
<line x1="372.38" y1="523.81" x2="378.38" y2="523.81" stroke="#000" stroke-width="1.1"/>
<line x1="390.74" y1="498.35" x2="390.74" y2="520.05" stroke="#000" stroke-width="1.1"/>
<line x1="387.74" y1="498.35" x2="393.74" y2="498.35" stroke="#000" stroke-width="1.1"/>
<line x1="387.74" y1="520.05" x2="393.74" y2="520.05" stroke="#000" stroke-width="1.1"/>
<line x1="406.10" y1="498.35" x2="406.10" y2="511.70" stroke="#000" stroke-width="1.1"/>
<line x1="403.10" y1="498.35" x2="409.10" y2="498.35" stroke="#000" stroke-width="1.1"/>
<line x1="403.10" y1="511.70" x2="409.10" y2="511.70" stroke="#000" stroke-width="1.1"/>
<line x1="421.46" y1="495.00" x2="421.46" y2="505.02" stroke="#000" stroke-width="1.1"/>
<line x1="418.46" y1="495.00" x2="424.46" y2="495.00" stroke="#000" stroke-width="1.1"/>
<line x1="418.46" y1="505.02" x2="424.46" y2="505.02" stroke="#000" stroke-width="1.1"/>
<line x1="436.82" y1="491.25" x2="436.82" y2="503.77" stroke="#000" stroke-width="1.1"/>
<line x1="433.82" y1="491.25" x2="439.82" y2="491.25" stroke="#000" stroke-width="1.1"/>
<line x1="433.82" y1="503.77" x2="439.82" y2="503.77" stroke="#000" stroke-width="1.1"/>
<line x1="452.18" y1="492.08" x2="452.18" y2="503.77" stroke="#000" stroke-width="1.1"/>
<line x1="449.18" y1="492.08" x2="455.18" y2="492.08" stroke="#000" stroke-width="1.1"/>
<line x1="449.18" y1="503.77" x2="455.18" y2="503.77" stroke="#000" stroke-width="1.1"/>
<line x1="467.54" y1="491.67" x2="467.54" y2="506.69" stroke="#000" stroke-width="1.1"/>
<line x1="464.54" y1="491.67" x2="470.54" y2="491.67" stroke="#000" stroke-width="1.1"/>
<line x1="464.54" y1="506.69" x2="470.54" y2="506.69" stroke="#000" stroke-width="1.1"/>
<line x1="452.18" y1="556.79" x2="452.18" y2="573.50" stroke="#000" stroke-width="1.1"/>
<line x1="449.18" y1="556.79" x2="455.18" y2="556.79" stroke="#000" stroke-width="1.1"/>
<line x1="449.18" y1="573.50" x2="455.18" y2="573.50" stroke="#000" stroke-width="1.1"/>
<line x1="467.54" y1="541.76" x2="467.54" y2="560.97" stroke="#000" stroke-width="1.1"/>
<line x1="464.54" y1="541.76" x2="470.54" y2="541.76" stroke="#000" stroke-width="1.1"/>
<line x1="464.54" y1="560.97" x2="470.54" y2="560.97" stroke="#000" stroke-width="1.1"/>
<rect x="314.00" y="463.80" width="169.10" height="112.20" fill="none" stroke="#000" stroke-width="2.2"/>
<circle cx="344.66" cy="570.15" r="3.4" fill="#9c6b28" stroke="#111" stroke-width="1.0"/>
<circle cx="360.02" cy="543.43" r="3.4" fill="#9c6b28" stroke="#111" stroke-width="1.0"/>
<circle cx="375.38" cy="512.96" r="3.4" fill="#9c6b28" stroke="#111" stroke-width="1.0"/>
<circle cx="390.74" cy="509.20" r="3.4" fill="#9c6b28" stroke="#111" stroke-width="1.0"/>
<circle cx="406.10" cy="505.02" r="3.4" fill="#9c6b28" stroke="#111" stroke-width="1.0"/>
<circle cx="421.46" cy="500.01" r="3.4" fill="#9c6b28" stroke="#111" stroke-width="1.0"/>
<circle cx="436.82" cy="497.51" r="3.4" fill="#9c6b28" stroke="#111" stroke-width="1.0"/>
<circle cx="452.18" cy="497.93" r="3.4" fill="#9c6b28" stroke="#111" stroke-width="1.0"/>
<circle cx="467.54" cy="499.18" r="3.4" fill="#9c6b28" stroke="#111" stroke-width="1.0"/>
<circle cx="436.82" cy="573.08" r="3.4" fill="#0a14f0" stroke="#111" stroke-width="1.0"/>
<circle cx="452.18" cy="565.14" r="3.4" fill="#0a14f0" stroke="#111" stroke-width="1.0"/>
<circle cx="467.54" cy="551.37" r="3.4" fill="#0a14f0" stroke="#111" stroke-width="1.0"/>
<line x1="305.00" y1="576.00" x2="314.00" y2="576.00" stroke="#000" stroke-width="2"/>
<text x="302.60" y="580.20" font-size="11.7" text-anchor="end" fill="#000">0.0</text>
<line x1="305.00" y1="542.60" x2="314.00" y2="542.60" stroke="#000" stroke-width="2"/>
<text x="302.60" y="546.80" font-size="11.7" text-anchor="end" fill="#000">0.4</text>
<line x1="305.00" y1="509.20" x2="314.00" y2="509.20" stroke="#000" stroke-width="2"/>
<text x="302.60" y="513.40" font-size="11.7" text-anchor="end" fill="#000">0.8</text>
<line x1="305.00" y1="475.80" x2="314.00" y2="475.80" stroke="#000" stroke-width="2"/>
<text x="302.60" y="480.00" font-size="11.7" text-anchor="end" fill="#000">1.2</text>
<line x1="329.30" y1="576.00" x2="329.30" y2="585.00" stroke="#000" stroke-width="2"/>
<text x="329.10" y="598.90" font-size="12.0" text-anchor="middle" fill="#000">-10</text>
<line x1="360.02" y1="576.00" x2="360.02" y2="585.00" stroke="#000" stroke-width="2"/>
<text x="359.82" y="598.90" font-size="12.0" text-anchor="middle" fill="#000">-9</text>
<line x1="390.74" y1="576.00" x2="390.74" y2="585.00" stroke="#000" stroke-width="2"/>
<text x="390.54" y="598.90" font-size="12.0" text-anchor="middle" fill="#000">-8</text>
<line x1="421.46" y1="576.00" x2="421.46" y2="585.00" stroke="#000" stroke-width="2"/>
<text x="421.26" y="598.90" font-size="12.0" text-anchor="middle" fill="#000">-7</text>
<line x1="452.18" y1="576.00" x2="452.18" y2="585.00" stroke="#000" stroke-width="2"/>
<text x="451.98" y="598.90" font-size="12.0" text-anchor="middle" fill="#000">-6</text>
<line x1="483.10" y1="576.00" x2="483.10" y2="585.00" stroke="#000" stroke-width="2.2"/>
<text x="482.60" y="598.90" font-size="12.0" text-anchor="middle" fill="#000">-5</text>
<circle cx="329.30" cy="576.00" r="2.9" fill="#8f8f8f" stroke="#111" stroke-width="1.7"/>
<circle cx="344.66" cy="576.00" r="2.9" fill="#8f8f8f" stroke="#111" stroke-width="1.7"/>
<circle cx="360.02" cy="576.00" r="2.9" fill="#8f8f8f" stroke="#111" stroke-width="1.7"/>
<circle cx="375.38" cy="576.00" r="2.9" fill="#8f8f8f" stroke="#111" stroke-width="1.7"/>
<circle cx="390.74" cy="576.00" r="2.9" fill="#8f8f8f" stroke="#111" stroke-width="1.7"/>
<circle cx="406.10" cy="576.00" r="2.9" fill="#8f8f8f" stroke="#111" stroke-width="1.7"/>
<circle cx="421.46" cy="576.00" r="2.9" fill="#8f8f8f" stroke="#111" stroke-width="1.7"/>
<circle cx="436.82" cy="576.00" r="2.9" fill="#8f8f8f" stroke="#111" stroke-width="1.7"/>
<circle cx="452.18" cy="576.00" r="2.9" fill="#8f8f8f" stroke="#111" stroke-width="1.7"/>
<circle cx="467.54" cy="576.00" r="2.9" fill="#8f8f8f" stroke="#111" stroke-width="1.7"/>
<text x="288.60" y="598.80" font-size="12.4" font-weight="bold" text-anchor="start" fill="#000">log</text>
<text transform="translate(277.40,561.00) rotate(-90)" font-size="14.1" font-weight="bold" text-anchor="start" fill="#000">Binding (%)</text>
<text x="319.60" y="477.30" font-size="12.4" font-weight="bold" text-anchor="start" fill="#000">f-MVPIK(<tspan fill="#15803f">FITC</tspan>)I</text>
<text x="320.60" y="490.60" font-size="10.3" text-anchor="start" fill="#a0712f">FPR1</text>
<text x="320.60" y="503.05" font-size="10.3" text-anchor="start" fill="#1414e0">FPR2</text>
<text x="320.60" y="515.50" font-size="10.3" text-anchor="start" fill="#8e8e8e">FPR3</text>
<polyline points="512.00,568.29 514.31,567.28 516.61,566.14 518.92,564.84 521.23,563.37 523.53,561.73 525.84,559.89 528.14,557.87 530.45,555.64 532.76,553.23 535.06,550.65 537.37,547.90 539.67,545.02 541.98,542.03 544.29,538.98 546.59,535.90 548.90,532.83 551.21,529.82 553.51,526.90 555.82,524.10 558.12,521.46 560.43,518.99 562.74,516.70 565.04,514.61 567.35,512.71 569.66,511.00 571.96,509.48 574.27,508.13 576.58,506.93 578.88,505.88 581.19,504.97 583.49,504.17 585.80,503.48 588.11,502.89 590.41,502.37 592.72,501.93 595.02,501.55 597.33,501.23 599.64,500.95 601.94,500.71 604.25,500.51 606.56,500.34 608.86,500.19 611.17,500.06 613.48,499.96 615.78,499.86 618.09,499.79 620.39,499.72 622.70,499.67 625.01,499.62 627.31,499.58 629.62,499.54 631.92,499.51 634.23,499.49 636.54,499.47 638.84,499.45 641.15,499.44 643.46,499.42 645.76,499.41 648.07,499.40 650.38,499.39" fill="none" stroke="#000" stroke-width="1.25"/>
<polyline points="542.75,574.49 544.54,574.48 546.34,574.48 548.13,574.48 549.92,574.47 551.72,574.47 553.51,574.46 555.31,574.45 557.10,574.45 558.89,574.44 560.69,574.42 562.48,574.41 564.27,574.39 566.07,574.37 567.86,574.35 569.66,574.32 571.45,574.28 573.24,574.24 575.04,574.19 576.83,574.13 578.62,574.07 580.42,573.98 582.21,573.89 584.01,573.77 585.80,573.63 587.59,573.47 589.39,573.28 591.18,573.06 592.98,572.79 594.77,572.48 596.56,572.11 598.36,571.68 600.15,571.18 601.94,570.59 603.74,569.91 605.53,569.13 607.33,568.24 609.12,567.22 610.91,566.06 612.71,564.76 614.50,563.32 616.29,561.73 618.09,560.00 619.88,558.14 621.67,556.16 623.47,554.08 625.26,551.94 627.06,549.76 628.85,547.58 630.64,545.42 632.44,543.33 634.23,541.32 636.02,539.42 637.82,537.65 639.61,536.02 641.41,534.54 643.20,533.20 644.99,532.00 646.79,530.94 648.58,530.01 650.38,529.20" fill="none" stroke="#000" stroke-width="1.25"/>
<line x1="512.00" y1="573.50" x2="650.38" y2="573.50" stroke="#000" stroke-width="1.2"/>
<line x1="527.38" y1="544.86" x2="527.38" y2="571.58" stroke="#000" stroke-width="1.1"/>
<line x1="524.38" y1="544.86" x2="530.38" y2="544.86" stroke="#000" stroke-width="1.1"/>
<line x1="524.38" y1="571.58" x2="530.38" y2="571.58" stroke="#000" stroke-width="1.1"/>
<line x1="542.75" y1="533.17" x2="542.75" y2="544.86" stroke="#000" stroke-width="1.1"/>
<line x1="539.75" y1="533.17" x2="545.75" y2="533.17" stroke="#000" stroke-width="1.1"/>
<line x1="539.75" y1="544.86" x2="545.75" y2="544.86" stroke="#000" stroke-width="1.1"/>
<line x1="558.12" y1="518.97" x2="558.12" y2="533.17" stroke="#000" stroke-width="1.1"/>
<line x1="555.12" y1="518.97" x2="561.12" y2="518.97" stroke="#000" stroke-width="1.1"/>
<line x1="555.12" y1="533.17" x2="561.12" y2="533.17" stroke="#000" stroke-width="1.1"/>
<line x1="573.50" y1="497.68" x2="573.50" y2="526.07" stroke="#000" stroke-width="1.1"/>
<line x1="570.50" y1="497.68" x2="576.50" y2="497.68" stroke="#000" stroke-width="1.1"/>
<line x1="570.50" y1="526.07" x2="576.50" y2="526.07" stroke="#000" stroke-width="1.1"/>
<line x1="588.88" y1="492.25" x2="588.88" y2="503.94" stroke="#000" stroke-width="1.1"/>
<line x1="585.88" y1="492.25" x2="591.88" y2="492.25" stroke="#000" stroke-width="1.1"/>
<line x1="585.88" y1="503.94" x2="591.88" y2="503.94" stroke="#000" stroke-width="1.1"/>
<line x1="604.25" y1="492.67" x2="604.25" y2="504.36" stroke="#000" stroke-width="1.1"/>
<line x1="601.25" y1="492.67" x2="607.25" y2="492.67" stroke="#000" stroke-width="1.1"/>
<line x1="601.25" y1="504.36" x2="607.25" y2="504.36" stroke="#000" stroke-width="1.1"/>
<line x1="619.62" y1="493.09" x2="619.62" y2="508.12" stroke="#000" stroke-width="1.1"/>
<line x1="616.62" y1="493.09" x2="622.62" y2="493.09" stroke="#000" stroke-width="1.1"/>
<line x1="616.62" y1="508.12" x2="622.62" y2="508.12" stroke="#000" stroke-width="1.1"/>
<line x1="635.00" y1="492.25" x2="635.00" y2="506.45" stroke="#000" stroke-width="1.1"/>
<line x1="632.00" y1="492.25" x2="638.00" y2="492.25" stroke="#000" stroke-width="1.1"/>
<line x1="632.00" y1="506.45" x2="638.00" y2="506.45" stroke="#000" stroke-width="1.1"/>
<line x1="650.38" y1="491.83" x2="650.38" y2="513.54" stroke="#000" stroke-width="1.1"/>
<line x1="647.38" y1="491.83" x2="653.38" y2="491.83" stroke="#000" stroke-width="1.1"/>
<line x1="647.38" y1="513.54" x2="653.38" y2="513.54" stroke="#000" stroke-width="1.1"/>
<line x1="619.62" y1="547.36" x2="619.62" y2="566.57" stroke="#000" stroke-width="1.1"/>
<line x1="616.62" y1="547.36" x2="622.62" y2="547.36" stroke="#000" stroke-width="1.1"/>
<line x1="616.62" y1="566.57" x2="622.62" y2="566.57" stroke="#000" stroke-width="1.1"/>
<line x1="635.00" y1="517.72" x2="635.00" y2="549.45" stroke="#000" stroke-width="1.1"/>
<line x1="632.00" y1="517.72" x2="638.00" y2="517.72" stroke="#000" stroke-width="1.1"/>
<line x1="632.00" y1="549.45" x2="638.00" y2="549.45" stroke="#000" stroke-width="1.1"/>
<line x1="650.38" y1="514.80" x2="650.38" y2="550.70" stroke="#000" stroke-width="1.1"/>
<line x1="647.38" y1="514.80" x2="653.38" y2="514.80" stroke="#000" stroke-width="1.1"/>
<line x1="647.38" y1="550.70" x2="653.38" y2="550.70" stroke="#000" stroke-width="1.1"/>
<line x1="635.00" y1="565.73" x2="635.00" y2="574.50" stroke="#000" stroke-width="1.1"/>
<line x1="632.00" y1="565.73" x2="638.00" y2="565.73" stroke="#000" stroke-width="1.1"/>
<line x1="632.00" y1="574.50" x2="638.00" y2="574.50" stroke="#000" stroke-width="1.1"/>
<line x1="650.38" y1="554.46" x2="650.38" y2="572.83" stroke="#000" stroke-width="1.1"/>
<line x1="647.38" y1="554.46" x2="653.38" y2="554.46" stroke="#000" stroke-width="1.1"/>
<line x1="647.38" y1="572.83" x2="653.38" y2="572.83" stroke="#000" stroke-width="1.1"/>
<rect x="497.20" y="463.00" width="168.80" height="111.50" fill="none" stroke="#000" stroke-width="2.2"/>
<circle cx="512.00" cy="572.00" r="3.4" fill="#9c6b28" stroke="#111" stroke-width="1.0"/>
<circle cx="527.38" cy="558.22" r="3.4" fill="#9c6b28" stroke="#111" stroke-width="1.0"/>
<circle cx="542.75" cy="539.01" r="3.4" fill="#9c6b28" stroke="#111" stroke-width="1.0"/>
<circle cx="558.12" cy="526.07" r="3.4" fill="#9c6b28" stroke="#111" stroke-width="1.0"/>
<circle cx="573.50" cy="511.88" r="3.4" fill="#9c6b28" stroke="#111" stroke-width="1.0"/>
<circle cx="588.88" cy="498.10" r="3.4" fill="#9c6b28" stroke="#111" stroke-width="1.0"/>
<circle cx="604.25" cy="498.51" r="3.4" fill="#9c6b28" stroke="#111" stroke-width="1.0"/>
<circle cx="619.62" cy="500.60" r="3.4" fill="#9c6b28" stroke="#111" stroke-width="1.0"/>
<circle cx="635.00" cy="499.35" r="3.4" fill="#9c6b28" stroke="#111" stroke-width="1.0"/>
<circle cx="650.38" cy="502.69" r="3.4" fill="#9c6b28" stroke="#111" stroke-width="1.0"/>
<circle cx="527.38" cy="575.10" r="3.4" fill="#0a14f0" stroke="#111" stroke-width="1.0"/>
<circle cx="604.25" cy="570.33" r="3.4" fill="#0a14f0" stroke="#111" stroke-width="1.0"/>
<circle cx="619.62" cy="556.97" r="3.4" fill="#0a14f0" stroke="#111" stroke-width="1.0"/>
<circle cx="635.00" cy="533.59" r="3.4" fill="#0a14f0" stroke="#111" stroke-width="1.0"/>
<circle cx="650.38" cy="532.75" r="3.4" fill="#0a14f0" stroke="#111" stroke-width="1.0"/>
<circle cx="635.00" cy="570.74" r="3.4" fill="#e6b4b1" stroke="#111" stroke-width="1.0"/>
<circle cx="650.38" cy="563.64" r="3.4" fill="#e6b4b1" stroke="#111" stroke-width="1.0"/>
<circle cx="512.00" cy="573.50" r="3.5" fill="#8c8c8c" stroke="#222" stroke-width="0.9"/>
<circle cx="527.38" cy="572.00" r="3.5" fill="#8c8c8c" stroke="#222" stroke-width="0.9"/>
<circle cx="542.75" cy="573.66" r="3.5" fill="#8c8c8c" stroke="#222" stroke-width="0.9"/>
<circle cx="558.12" cy="573.66" r="3.5" fill="#8c8c8c" stroke="#222" stroke-width="0.9"/>
<circle cx="573.50" cy="573.50" r="3.5" fill="#8c8c8c" stroke="#222" stroke-width="0.9"/>
<circle cx="588.88" cy="573.50" r="3.5" fill="#8c8c8c" stroke="#222" stroke-width="0.9"/>
<circle cx="604.25" cy="573.50" r="3.5" fill="#8c8c8c" stroke="#222" stroke-width="0.9"/>
<circle cx="619.62" cy="573.50" r="3.5" fill="#8c8c8c" stroke="#222" stroke-width="0.9"/>
<circle cx="635.00" cy="573.50" r="3.5" fill="#8c8c8c" stroke="#222" stroke-width="0.9"/>
<circle cx="650.38" cy="572.00" r="3.5" fill="#8c8c8c" stroke="#222" stroke-width="0.9"/>
<line x1="490.00" y1="574.50" x2="497.20" y2="574.50" stroke="#000" stroke-width="2"/>
<line x1="490.00" y1="541.10" x2="497.20" y2="541.10" stroke="#000" stroke-width="2"/>
<line x1="490.00" y1="507.70" x2="497.20" y2="507.70" stroke="#000" stroke-width="2"/>
<line x1="490.00" y1="474.30" x2="497.20" y2="474.30" stroke="#000" stroke-width="2"/>
<line x1="512.00" y1="574.50" x2="512.00" y2="584.00" stroke="#000" stroke-width="2"/>
<text x="511.80" y="598.60" font-size="12.0" text-anchor="middle" fill="#000">-10</text>
<line x1="542.75" y1="574.50" x2="542.75" y2="584.00" stroke="#000" stroke-width="2"/>
<text x="542.55" y="598.60" font-size="12.0" text-anchor="middle" fill="#000">-9</text>
<line x1="573.50" y1="574.50" x2="573.50" y2="584.00" stroke="#000" stroke-width="2"/>
<text x="573.30" y="598.60" font-size="12.0" text-anchor="middle" fill="#000">-8</text>
<line x1="604.25" y1="574.50" x2="604.25" y2="584.00" stroke="#000" stroke-width="2"/>
<text x="604.05" y="598.60" font-size="12.0" text-anchor="middle" fill="#000">-7</text>
<line x1="635.00" y1="574.50" x2="635.00" y2="584.00" stroke="#000" stroke-width="2"/>
<text x="634.80" y="598.60" font-size="12.0" text-anchor="middle" fill="#000">-6</text>
<line x1="666.00" y1="574.50" x2="666.00" y2="584.00" stroke="#000" stroke-width="2"/>
<text x="665.80" y="598.60" font-size="12.0" text-anchor="middle" fill="#000">-5</text>
<text x="502.40" y="476.60" font-size="12.2" font-weight="bold" text-anchor="start" fill="#000">f-MVPIK(<tspan fill="#f40b0b">TAMRA</tspan>)I</text>
<text x="503.00" y="490.20" font-size="10.3" text-anchor="start" fill="#a0712f">FPR1</text>
<text x="503.00" y="502.60" font-size="10.3" text-anchor="start" fill="#1414e0">FPR2</text>
<text x="503.00" y="515.00" font-size="10.3" text-anchor="start" fill="#e3b9b7">FPR3</text>
<text x="503.00" y="527.40" font-size="10.3" text-anchor="start" fill="#8e8e8e">Mock</text>
<circle cx="527.50" cy="522.60" r="0.55" fill="#333" stroke="none" stroke-width="0"/>
</g>
<g id="panel-b">
<text x="1.20" y="273.90" font-size="20.3" font-weight="bold" text-anchor="start" fill="#1a1a1a">b</text>
<polyline points="85.31,386.47 87.49,386.41 89.68,386.33 91.86,386.25 94.04,386.16 96.22,386.05 98.41,385.93 100.59,385.79 102.77,385.64 104.96,385.47 107.14,385.28 109.32,385.06 111.50,384.82 113.69,384.56 115.87,384.26 118.05,383.94 120.24,383.58 122.42,383.20 124.60,382.78 126.78,382.33 128.97,381.84 131.15,381.33 133.33,380.78 135.52,380.21 137.70,379.62 139.88,379.01 142.06,378.39 144.25,377.75 146.43,377.12 148.61,376.49 150.80,375.86 152.98,375.26 155.16,374.67 157.34,374.10 159.53,373.56 161.71,373.05 163.89,372.57 166.07,372.12 168.26,371.71 170.44,371.33 172.62,370.98 174.81,370.66 176.99,370.37 179.17,370.11 181.35,369.87 183.54,369.66 185.72,369.47 187.90,369.30 190.09,369.15 192.27,369.02 194.45,368.90 196.63,368.79 198.82,368.70 201.00,368.62 203.18,368.55 205.37,368.48 207.55,368.43 209.73,368.38 211.91,368.33 214.10,368.30 216.28,368.26" fill="none" stroke="#000" stroke-width="1.25"/>
<polyline points="85.31,385.23 87.49,384.93 89.68,384.62 91.86,384.31 94.04,383.99 96.22,383.66 98.41,383.33 100.59,383.01 102.77,382.69 104.96,382.38 107.14,382.08 109.32,381.80 111.50,381.52 113.69,381.27 115.87,381.02 118.05,380.80 120.24,380.59 122.42,380.40 124.60,380.22 126.78,380.07 128.97,379.92 131.15,379.79 133.33,379.67 135.52,379.57 137.70,379.47 139.88,379.39 142.06,379.31 144.25,379.25 146.43,379.19 148.61,379.14 150.80,379.09 152.98,379.05 155.16,379.02 157.34,378.98 159.53,378.96 161.71,378.93 163.89,378.91 166.07,378.89 168.26,378.88 170.44,378.86 172.62,378.85 174.81,378.84 176.99,378.83 179.17,378.82 181.35,378.81 183.54,378.80 185.72,378.80 187.90,378.79 190.09,378.79 192.27,378.79 194.45,378.78 196.63,378.78 198.82,378.78 201.00,378.77 203.18,378.77 205.37,378.77 207.55,378.77 209.73,378.77 211.91,378.77 214.10,378.77 216.28,378.77" fill="none" stroke="#000" stroke-width="1.25"/>
<polyline points="85.31,385.67 87.49,385.63 89.68,385.59 91.86,385.55 94.04,385.49 96.22,385.43 98.41,385.37 100.59,385.29 102.77,385.20 104.96,385.10 107.14,384.98 109.32,384.85 111.50,384.70 113.69,384.53 115.87,384.34 118.05,384.12 120.24,383.87 122.42,383.59 124.60,383.27 126.78,382.91 128.97,382.50 131.15,382.04 133.33,381.52 135.52,380.94 137.70,380.29 139.88,379.57 142.06,378.76 144.25,377.87 146.43,376.88 148.61,375.79 150.80,374.60 152.98,373.31 155.16,371.91 157.34,370.40 159.53,368.79 161.71,367.07 163.89,365.27 166.07,363.38 168.26,361.43 170.44,359.42 172.62,357.37 174.81,355.29 176.99,353.22 179.17,351.16 181.35,349.14 183.54,347.16 185.72,345.26 187.90,343.43 190.09,341.69 192.27,340.05 194.45,338.51 196.63,337.08 198.82,335.75 201.00,334.53 203.18,333.42 205.37,332.40 207.55,331.48 209.73,330.65 211.91,329.90 214.10,329.23 216.28,328.63" fill="none" stroke="#000" stroke-width="1.25"/>
<polyline points="85.31,382.78 87.49,382.03 89.68,381.20 91.86,380.27 94.04,379.24 96.22,378.09 98.41,376.84 100.59,375.46 102.77,373.95 104.96,372.32 107.14,370.56 109.32,368.68 111.50,366.67 113.69,364.55 115.87,362.32 118.05,360.01 120.24,357.62 122.42,355.18 124.60,352.70 126.78,350.21 128.97,347.74 131.15,345.29 133.33,342.90 135.52,340.59 137.70,338.36 139.88,336.23 142.06,334.22 144.25,332.33 146.43,330.57 148.61,328.93 150.80,327.42 152.98,326.04 155.16,324.78 157.34,323.64 159.53,322.60 161.71,321.67 163.89,320.83 166.07,320.08 168.26,319.41 170.44,318.82 172.62,318.29 174.81,317.82 176.99,317.40 179.17,317.04 181.35,316.71 183.54,316.43 185.72,316.18 187.90,315.95 190.09,315.76 192.27,315.59 194.45,315.44 196.63,315.30 198.82,315.19 201.00,315.09 203.18,315.00 205.37,314.92 207.55,314.85 209.73,314.79 211.91,314.74 214.10,314.69 216.28,314.65" fill="none" stroke="#000" stroke-width="1.25"/>
<line x1="104.02" y1="364.33" x2="104.02" y2="376.16" stroke="#000" stroke-width="1.1"/>
<line x1="100.82" y1="364.33" x2="107.22" y2="364.33" stroke="#000" stroke-width="1.1"/>
<line x1="100.82" y1="376.16" x2="107.22" y2="376.16" stroke="#000" stroke-width="1.1"/>
<line x1="122.73" y1="344.89" x2="122.73" y2="366.17" stroke="#000" stroke-width="1.1"/>
<line x1="119.53" y1="344.89" x2="125.93" y2="344.89" stroke="#000" stroke-width="1.1"/>
<line x1="119.53" y1="366.17" x2="125.93" y2="366.17" stroke="#000" stroke-width="1.1"/>
<line x1="141.44" y1="327.55" x2="141.44" y2="348.31" stroke="#000" stroke-width="1.1"/>
<line x1="138.24" y1="327.55" x2="144.64" y2="327.55" stroke="#000" stroke-width="1.1"/>
<line x1="138.24" y1="348.31" x2="144.64" y2="348.31" stroke="#000" stroke-width="1.1"/>
<line x1="160.15" y1="315.20" x2="160.15" y2="341.21" stroke="#000" stroke-width="1.1"/>
<line x1="156.95" y1="315.20" x2="163.35" y2="315.20" stroke="#000" stroke-width="1.1"/>
<line x1="156.95" y1="341.21" x2="163.35" y2="341.21" stroke="#000" stroke-width="1.1"/>
<line x1="178.86" y1="312.31" x2="178.86" y2="338.32" stroke="#000" stroke-width="1.1"/>
<line x1="175.66" y1="312.31" x2="182.06" y2="312.31" stroke="#000" stroke-width="1.1"/>
<line x1="175.66" y1="338.32" x2="182.06" y2="338.32" stroke="#000" stroke-width="1.1"/>
<line x1="197.57" y1="301.27" x2="197.57" y2="324.92" stroke="#000" stroke-width="1.1"/>
<line x1="194.37" y1="301.27" x2="200.77" y2="301.27" stroke="#000" stroke-width="1.1"/>
<line x1="194.37" y1="324.92" x2="200.77" y2="324.92" stroke="#000" stroke-width="1.1"/>
<line x1="216.28" y1="297.60" x2="216.28" y2="317.04" stroke="#000" stroke-width="1.1"/>
<line x1="213.08" y1="297.60" x2="219.48" y2="297.60" stroke="#000" stroke-width="1.1"/>
<line x1="213.08" y1="317.04" x2="219.48" y2="317.04" stroke="#000" stroke-width="1.1"/>
<circle cx="85.31" cy="387.98" r="3.5" fill="#9c6b28" stroke="#111" stroke-width="1.0"/>
<circle cx="104.02" cy="370.11" r="3.5" fill="#9c6b28" stroke="#111" stroke-width="1.0"/>
<circle cx="122.73" cy="355.40" r="3.5" fill="#9c6b28" stroke="#111" stroke-width="1.0"/>
<circle cx="141.44" cy="338.06" r="3.5" fill="#9c6b28" stroke="#111" stroke-width="1.0"/>
<circle cx="160.15" cy="328.34" r="3.5" fill="#9c6b28" stroke="#111" stroke-width="1.0"/>
<circle cx="178.86" cy="325.45" r="3.5" fill="#9c6b28" stroke="#111" stroke-width="1.0"/>
<circle cx="197.57" cy="312.83" r="3.5" fill="#9c6b28" stroke="#111" stroke-width="1.0"/>
<circle cx="216.28" cy="307.32" r="3.5" fill="#9c6b28" stroke="#111" stroke-width="1.0"/>
<line x1="104.02" y1="378.00" x2="104.02" y2="383.78" stroke="#000" stroke-width="1.1"/>
<line x1="100.82" y1="378.00" x2="107.22" y2="378.00" stroke="#000" stroke-width="1.1"/>
<line x1="100.82" y1="383.78" x2="107.22" y2="383.78" stroke="#000" stroke-width="1.1"/>
<line x1="122.73" y1="375.37" x2="122.73" y2="381.15" stroke="#000" stroke-width="1.1"/>
<line x1="119.53" y1="375.37" x2="125.93" y2="375.37" stroke="#000" stroke-width="1.1"/>
<line x1="119.53" y1="381.15" x2="125.93" y2="381.15" stroke="#000" stroke-width="1.1"/>
<line x1="141.44" y1="367.49" x2="141.44" y2="378.52" stroke="#000" stroke-width="1.1"/>
<line x1="138.24" y1="367.49" x2="144.64" y2="367.49" stroke="#000" stroke-width="1.1"/>
<line x1="138.24" y1="378.52" x2="144.64" y2="378.52" stroke="#000" stroke-width="1.1"/>
<line x1="160.15" y1="363.81" x2="160.15" y2="369.59" stroke="#000" stroke-width="1.1"/>
<line x1="156.95" y1="363.81" x2="163.35" y2="363.81" stroke="#000" stroke-width="1.1"/>
<line x1="156.95" y1="369.59" x2="163.35" y2="369.59" stroke="#000" stroke-width="1.1"/>
<line x1="178.86" y1="345.42" x2="178.86" y2="353.30" stroke="#000" stroke-width="1.1"/>
<line x1="175.66" y1="345.42" x2="182.06" y2="345.42" stroke="#000" stroke-width="1.1"/>
<line x1="175.66" y1="353.30" x2="182.06" y2="353.30" stroke="#000" stroke-width="1.1"/>
<line x1="197.57" y1="323.87" x2="197.57" y2="340.69" stroke="#000" stroke-width="1.1"/>
<line x1="194.37" y1="323.87" x2="200.77" y2="323.87" stroke="#000" stroke-width="1.1"/>
<line x1="194.37" y1="340.69" x2="200.77" y2="340.69" stroke="#000" stroke-width="1.1"/>
<line x1="216.28" y1="322.82" x2="216.28" y2="337.01" stroke="#000" stroke-width="1.1"/>
<line x1="213.08" y1="322.82" x2="219.48" y2="322.82" stroke="#000" stroke-width="1.1"/>
<line x1="213.08" y1="337.01" x2="219.48" y2="337.01" stroke="#000" stroke-width="1.1"/>
<circle cx="85.31" cy="391.13" r="3.5" fill="#0a14f0" stroke="#111" stroke-width="1.0"/>
<circle cx="104.02" cy="380.89" r="3.5" fill="#0a14f0" stroke="#111" stroke-width="1.0"/>
<circle cx="122.73" cy="378.26" r="3.5" fill="#0a14f0" stroke="#111" stroke-width="1.0"/>
<circle cx="141.44" cy="373.00" r="3.5" fill="#0a14f0" stroke="#111" stroke-width="1.0"/>
<circle cx="160.15" cy="366.70" r="3.5" fill="#0a14f0" stroke="#111" stroke-width="1.0"/>
<circle cx="178.86" cy="349.09" r="3.5" fill="#0a14f0" stroke="#111" stroke-width="1.0"/>
<circle cx="197.57" cy="332.28" r="3.5" fill="#0a14f0" stroke="#111" stroke-width="1.0"/>
<circle cx="216.28" cy="329.65" r="3.5" fill="#0a14f0" stroke="#111" stroke-width="1.0"/>
<line x1="178.86" y1="363.02" x2="178.86" y2="370.11" stroke="#000" stroke-width="1.1"/>
<line x1="175.66" y1="363.02" x2="182.06" y2="363.02" stroke="#000" stroke-width="1.1"/>
<line x1="175.66" y1="370.11" x2="182.06" y2="370.11" stroke="#000" stroke-width="1.1"/>
<line x1="197.57" y1="363.81" x2="197.57" y2="378.00" stroke="#000" stroke-width="1.1"/>
<line x1="194.37" y1="363.81" x2="200.77" y2="363.81" stroke="#000" stroke-width="1.1"/>
<line x1="194.37" y1="378.00" x2="200.77" y2="378.00" stroke="#000" stroke-width="1.1"/>
<line x1="216.28" y1="355.14" x2="216.28" y2="377.47" stroke="#000" stroke-width="1.1"/>
<line x1="213.08" y1="355.14" x2="219.48" y2="355.14" stroke="#000" stroke-width="1.1"/>
<line x1="213.08" y1="377.47" x2="219.48" y2="377.47" stroke="#000" stroke-width="1.1"/>
<circle cx="85.31" cy="388.50" r="3.5" fill="#e6b4b1" stroke="#111" stroke-width="1.0"/>
<circle cx="104.02" cy="384.04" r="3.5" fill="#e6b4b1" stroke="#111" stroke-width="1.0"/>
<circle cx="122.73" cy="379.31" r="3.5" fill="#e6b4b1" stroke="#111" stroke-width="1.0"/>
<circle cx="141.44" cy="378.78" r="3.5" fill="#e6b4b1" stroke="#111" stroke-width="1.0"/>
<circle cx="160.15" cy="376.16" r="3.5" fill="#e6b4b1" stroke="#111" stroke-width="1.0"/>
<circle cx="178.86" cy="366.70" r="3.5" fill="#e6b4b1" stroke="#111" stroke-width="1.0"/>
<circle cx="197.57" cy="370.90" r="3.5" fill="#e6b4b1" stroke="#111" stroke-width="1.0"/>
<circle cx="216.28" cy="366.70" r="3.5" fill="#e6b4b1" stroke="#111" stroke-width="1.0"/>
<line x1="178.86" y1="376.16" x2="178.86" y2="383.51" stroke="#000" stroke-width="1.1"/>
<line x1="175.66" y1="376.16" x2="182.06" y2="376.16" stroke="#000" stroke-width="1.1"/>
<line x1="175.66" y1="383.51" x2="182.06" y2="383.51" stroke="#000" stroke-width="1.1"/>
<line x1="197.57" y1="367.49" x2="197.57" y2="384.04" stroke="#000" stroke-width="1.1"/>
<line x1="194.37" y1="367.49" x2="200.77" y2="367.49" stroke="#000" stroke-width="1.1"/>
<line x1="194.37" y1="384.04" x2="200.77" y2="384.04" stroke="#000" stroke-width="1.1"/>
<line x1="216.28" y1="372.74" x2="216.28" y2="384.83" stroke="#000" stroke-width="1.1"/>
<line x1="213.08" y1="372.74" x2="219.48" y2="372.74" stroke="#000" stroke-width="1.1"/>
<line x1="213.08" y1="384.83" x2="219.48" y2="384.83" stroke="#000" stroke-width="1.1"/>
<circle cx="85.31" cy="388.77" r="3.5" fill="#8c8c8c" stroke="#111" stroke-width="1.0"/>
<circle cx="104.02" cy="384.83" r="3.5" fill="#8c8c8c" stroke="#111" stroke-width="1.0"/>
<circle cx="122.73" cy="379.05" r="3.5" fill="#8c8c8c" stroke="#111" stroke-width="1.0"/>
<circle cx="141.44" cy="381.94" r="3.5" fill="#8c8c8c" stroke="#111" stroke-width="1.0"/>
<circle cx="160.15" cy="380.89" r="3.5" fill="#8c8c8c" stroke="#111" stroke-width="1.0"/>
<circle cx="178.86" cy="379.83" r="3.5" fill="#8c8c8c" stroke="#111" stroke-width="1.0"/>
<circle cx="197.57" cy="374.84" r="3.5" fill="#8c8c8c" stroke="#111" stroke-width="1.0"/>
<circle cx="216.28" cy="378.52" r="3.5" fill="#8c8c8c" stroke="#111" stroke-width="1.0"/>
<rect x="66.40" y="282.30" width="168.60" height="112.30" fill="none" stroke="#000" stroke-width="2"/>
<line x1="58.40" y1="394.60" x2="66.40" y2="394.60" stroke="#000" stroke-width="2"/>
<text x="57.60" y="398.90" font-size="12.1" text-anchor="end" fill="#000">0.0</text>
<line x1="58.40" y1="353.72" x2="66.40" y2="353.72" stroke="#000" stroke-width="2"/>
<text x="57.60" y="358.02" font-size="12.1" text-anchor="end" fill="#000">0.4</text>
<line x1="58.40" y1="312.84" x2="66.40" y2="312.84" stroke="#000" stroke-width="2"/>
<text x="57.60" y="317.14" font-size="12.1" text-anchor="end" fill="#000">0.8</text>
<line x1="66.60" y1="394.60" x2="66.60" y2="403.20" stroke="#000" stroke-width="2"/>
<text x="67.40" y="417.90" font-size="12.1" text-anchor="middle" fill="#000">-10</text>
<line x1="104.02" y1="394.60" x2="104.02" y2="403.20" stroke="#000" stroke-width="2"/>
<text x="103.72" y="417.90" font-size="12.1" text-anchor="middle" fill="#000">-9</text>
<line x1="141.44" y1="394.60" x2="141.44" y2="403.20" stroke="#000" stroke-width="2"/>
<text x="141.14" y="417.90" font-size="12.1" text-anchor="middle" fill="#000">-8</text>
<line x1="178.86" y1="394.60" x2="178.86" y2="403.20" stroke="#000" stroke-width="2"/>
<text x="178.56" y="417.90" font-size="12.1" text-anchor="middle" fill="#000">-7</text>
<line x1="216.28" y1="394.60" x2="216.28" y2="403.20" stroke="#000" stroke-width="2"/>
<text x="215.98" y="417.90" font-size="12.1" text-anchor="middle" fill="#000">-6</text>
<text x="33.80" y="417.90" font-size="12.4" font-weight="bold" text-anchor="start" fill="#000">log</text>
<text transform="translate(35.20,404.70) rotate(-90)" font-size="14.1" font-weight="bold" text-anchor="start" fill="#000">calcium flux (dF/F<tspan font-size="9.2" dy="2.6">0</tspan><tspan dy="-2.6">)</tspan></text>
<text x="75.00" y="296.70" font-size="12.15" font-weight="bold" text-anchor="start" fill="#000">f-MVPIKI</text>
<text x="75.20" y="309.50" font-size="10.4" text-anchor="start" fill="#a0712f">FPR1</text>
<text x="75.20" y="321.90" font-size="10.4" text-anchor="start" fill="#1414ff">FPR2</text>
<text x="75.20" y="334.30" font-size="10.4" text-anchor="start" fill="#e3b9b7">FPR3</text>
<text x="75.20" y="346.70" font-size="10.4" text-anchor="start" fill="#8e8e8e">Mock</text>
</g>
<g id="panel-d">
<text x="0.80" y="441.00" font-size="20.3" font-weight="bold" text-anchor="start" fill="#1a1a1a">d</text>
<defs>
<pattern id="hk" patternUnits="userSpaceOnUse" width="6.1" height="6.1" patternTransform="rotate(-45)"><rect width="6.1" height="6.1" fill="#fff"/><rect y="0" width="6.1" height="2.9" fill="#000"/></pattern>
<pattern id="hg" patternUnits="userSpaceOnUse" width="6.1" height="6.1" patternTransform="rotate(-45)"><rect width="6.1" height="6.1" fill="#fff"/><rect y="0" width="6.1" height="2.9" fill="#15803f"/></pattern>
<pattern id="hr" patternUnits="userSpaceOnUse" width="6.1" height="6.1" patternTransform="rotate(-45)"><rect width="6.1" height="6.1" fill="#fff"/><rect y="0" width="6.1" height="2.9" fill="#f40b0b"/></pattern>
</defs>
<line x1="123.60" y1="463.20" x2="123.60" y2="573.20" stroke="#222" stroke-width="1.0" stroke-dasharray="1 2.3"/>
<line x1="180.00" y1="463.20" x2="180.00" y2="573.20" stroke="#222" stroke-width="1.0" stroke-dasharray="1 2.3"/>
<rect x="74.40" y="564.00" width="17.40" height="10.20" fill="url(#hk)" stroke="#000" stroke-width="2"/>
<line x1="108.50" y1="518.20" x2="108.50" y2="533.20" stroke="#000" stroke-width="1.2"/>
<line x1="103.50" y1="518.20" x2="113.50" y2="518.20" stroke="#000" stroke-width="1.2"/>
<rect x="99.40" y="534.20" width="18.20" height="40.00" fill="#000" stroke="#000" stroke-width="2"/>
<rect x="130.50" y="564.00" width="17.40" height="10.20" fill="url(#hg)" stroke="#000" stroke-width="2"/>
<line x1="164.70" y1="503.30" x2="164.70" y2="521.60" stroke="#000" stroke-width="1.2"/>
<line x1="159.70" y1="503.30" x2="169.70" y2="503.30" stroke="#000" stroke-width="1.2"/>
<rect x="155.60" y="522.60" width="18.20" height="51.60" fill="#15803f" stroke="#000" stroke-width="2"/>
<rect x="186.60" y="566.60" width="17.60" height="7.60" fill="url(#hr)" stroke="#000" stroke-width="2"/>
<line x1="220.50" y1="524.20" x2="220.50" y2="539.90" stroke="#000" stroke-width="1.2"/>
<line x1="215.50" y1="524.20" x2="225.50" y2="524.20" stroke="#000" stroke-width="1.2"/>
<rect x="211.60" y="540.90" width="17.80" height="33.30" fill="#f40b0b" stroke="#000" stroke-width="2"/>
<circle cx="75.10" cy="561.30" r="2.3" fill="#fff" stroke="#000" stroke-width="1.15"/>
<circle cx="75.10" cy="566.70" r="2.3" fill="#fff" stroke="#000" stroke-width="1.15"/>
<circle cx="80.20" cy="565.50" r="2.3" fill="#fff" stroke="#000" stroke-width="1.15"/>
<circle cx="85.70" cy="565.50" r="2.3" fill="#fff" stroke="#000" stroke-width="1.15"/>
<circle cx="91.20" cy="565.20" r="2.3" fill="#fff" stroke="#000" stroke-width="1.15"/>
<circle cx="108.40" cy="512.70" r="2.3" fill="#fff" stroke="#000" stroke-width="1.15"/>
<circle cx="108.40" cy="522.30" r="2.3" fill="#fff" stroke="#000" stroke-width="1.15"/>
<circle cx="108.40" cy="529.70" r="2.3" fill="#fff" stroke="#000" stroke-width="1.15"/>
<circle cx="108.40" cy="535.30" r="2.3" fill="#fff" stroke="#000" stroke-width="1.15"/>
<circle cx="108.40" cy="546.50" r="2.3" fill="#fff" stroke="#000" stroke-width="1.15"/>
<circle cx="108.40" cy="553.80" r="2.3" fill="#fff" stroke="#000" stroke-width="1.15"/>
<circle cx="131.20" cy="561.30" r="2.3" fill="#fff" stroke="#000" stroke-width="1.15"/>
<circle cx="131.20" cy="566.70" r="2.3" fill="#fff" stroke="#000" stroke-width="1.15"/>
<circle cx="136.40" cy="565.50" r="2.3" fill="#fff" stroke="#000" stroke-width="1.15"/>
<circle cx="141.80" cy="565.50" r="2.3" fill="#fff" stroke="#000" stroke-width="1.15"/>
<circle cx="147.20" cy="565.20" r="2.3" fill="#fff" stroke="#000" stroke-width="1.15"/>
<circle cx="164.90" cy="488.40" r="2.3" fill="#fff" stroke="#000" stroke-width="1.15"/>
<circle cx="164.90" cy="514.50" r="2.3" fill="#fff" stroke="#000" stroke-width="1.15"/>
<circle cx="159.90" cy="527.60" r="2.3" fill="#fff" stroke="#000" stroke-width="1.15"/>
<circle cx="168.80" cy="526.80" r="2.3" fill="#fff" stroke="#000" stroke-width="1.15"/>
<circle cx="168.80" cy="532.80" r="2.3" fill="#fff" stroke="#000" stroke-width="1.15"/>
<circle cx="159.90" cy="537.00" r="2.3" fill="#fff" stroke="#000" stroke-width="1.15"/>
<circle cx="198.80" cy="557.30" r="2.3" fill="#fff" stroke="#000" stroke-width="1.15"/>
<circle cx="195.70" cy="561.50" r="2.3" fill="#fff" stroke="#000" stroke-width="1.15"/>
<circle cx="191.80" cy="564.70" r="2.3" fill="#fff" stroke="#000" stroke-width="1.15"/>
<circle cx="187.30" cy="568.80" r="2.3" fill="#fff" stroke="#000" stroke-width="1.15"/>
<circle cx="195.70" cy="567.30" r="2.3" fill="#fff" stroke="#000" stroke-width="1.15"/>
<circle cx="199.60" cy="565.20" r="2.3" fill="#fff" stroke="#000" stroke-width="1.15"/>
<circle cx="203.50" cy="568.80" r="2.3" fill="#fff" stroke="#000" stroke-width="1.15"/>
<circle cx="220.50" cy="514.50" r="2.3" fill="#fff" stroke="#000" stroke-width="1.15"/>
<circle cx="220.50" cy="531.20" r="2.3" fill="#fff" stroke="#000" stroke-width="1.15"/>
<circle cx="212.70" cy="534.90" r="2.3" fill="#fff" stroke="#000" stroke-width="1.15"/>
<circle cx="228.30" cy="531.20" r="2.3" fill="#fff" stroke="#000" stroke-width="1.15"/>
<circle cx="220.50" cy="537.50" r="2.3" fill="#fff" stroke="#000" stroke-width="1.15"/>
<circle cx="220.50" cy="546.90" r="2.3" fill="#fff" stroke="#000" stroke-width="1.15"/>
<circle cx="220.50" cy="554.20" r="2.3" fill="#fff" stroke="#000" stroke-width="1.15"/>
<circle cx="220.50" cy="562.60" r="2.3" fill="#fff" stroke="#000" stroke-width="1.15"/>
<rect x="68.20" y="462.20" width="168.50" height="112.00" fill="none" stroke="#000" stroke-width="2"/>
<line x1="58.20" y1="574.20" x2="68.20" y2="574.20" stroke="#000" stroke-width="2"/>
<text x="56.30" y="578.60" font-size="12.6" text-anchor="end" fill="#000">0.0</text>
<line x1="58.20" y1="536.86" x2="68.20" y2="536.86" stroke="#000" stroke-width="2"/>
<text x="56.30" y="541.26" font-size="12.6" text-anchor="end" fill="#000">0.2</text>
<line x1="58.20" y1="499.52" x2="68.20" y2="499.52" stroke="#000" stroke-width="2"/>
<text x="56.30" y="503.92" font-size="12.6" text-anchor="end" fill="#000">0.4</text>
<line x1="58.20" y1="462.18" x2="68.20" y2="462.18" stroke="#000" stroke-width="2"/>
<text x="56.30" y="466.58" font-size="12.6" text-anchor="end" fill="#000">0.6</text>
<line x1="82.90" y1="574.20" x2="82.90" y2="583.20" stroke="#000" stroke-width="2"/>
<text transform="translate(85.30,593.00) rotate(-45)" font-size="12.1" text-anchor="end" fill="#000">Mock</text>
<line x1="108.40" y1="574.20" x2="108.40" y2="583.20" stroke="#000" stroke-width="2"/>
<text transform="translate(110.80,593.00) rotate(-45)" font-size="12.1" text-anchor="end" fill="#000">FPR1</text>
<line x1="138.70" y1="574.20" x2="138.70" y2="583.20" stroke="#000" stroke-width="2"/>
<text transform="translate(141.10,593.00) rotate(-45)" font-size="12.1" text-anchor="end" fill="#000">Mock</text>
<line x1="164.60" y1="574.20" x2="164.60" y2="583.20" stroke="#000" stroke-width="2"/>
<text transform="translate(167.00,593.00) rotate(-45)" font-size="12.1" text-anchor="end" fill="#000">FPR1</text>
<line x1="194.60" y1="574.20" x2="194.60" y2="583.20" stroke="#000" stroke-width="2"/>
<text transform="translate(197.00,593.00) rotate(-45)" font-size="12.1" text-anchor="end" fill="#000">Mock</text>
<line x1="220.30" y1="574.20" x2="220.30" y2="583.20" stroke="#000" stroke-width="2"/>
<text transform="translate(222.70,593.00) rotate(-45)" font-size="12.1" text-anchor="end" fill="#000">FPR1</text>
<text transform="translate(31.00,585.30) rotate(-90)" font-size="14.1" font-weight="bold" text-anchor="start" fill="#000">Calcium flux (dF/F<tspan font-size="9.2" dy="2.6">0</tspan><tspan dy="-2.6">)</tspan></text>
<text x="69.80" y="479.20" font-size="12.0" font-weight="bold" text-anchor="start" fill="#000">f-MVPIKI</text>
<text x="129.00" y="479.20" font-size="12.0" font-weight="bold" text-anchor="start" fill="#000">+ <tspan fill="#15803f">FITC</tspan></text>
<text x="180.80" y="479.20" font-size="12.0" font-weight="bold" text-anchor="start" fill="#000">+ <tspan fill="#f40b0b">TAMRA</tspan></text>
</g>
</svg></body></html>
